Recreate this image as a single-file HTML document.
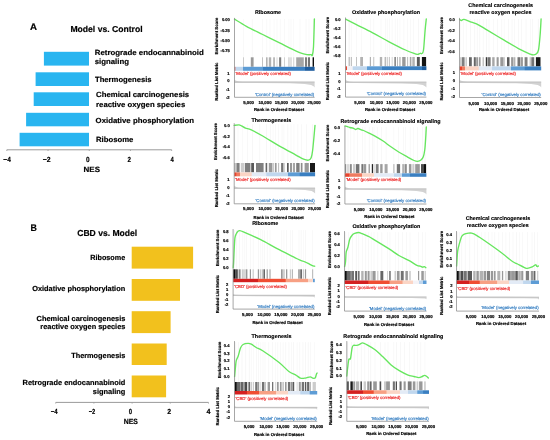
<!DOCTYPE html>
<html><head><meta charset="utf-8"><style>
html,body{margin:0;padding:0;background:#fff;overflow:hidden;}
svg{display:block;}
#wrap{width:550px;height:440px;overflow:hidden;will-change:transform;}
text{font-family:"Liberation Sans", sans-serif;text-rendering:geometricPrecision;}
</style></head><body>
<div id="wrap"><svg width="550" height="440" viewBox="0 0 550 440">
<rect width="550" height="440" fill="#fff"/>
<text x="268.00" y="14.24" text-anchor="middle" font-size="5.4" font-weight="bold" fill="#000" stroke="#000" stroke-width="0.12" >Ribosome</text>
<rect x="243.30" y="18.90" width="0.6" height="38.40" fill="#000" fill-opacity="0.043"/>
<rect x="251.90" y="18.90" width="0.6" height="38.40" fill="#000" fill-opacity="0.047"/>
<rect x="262.10" y="18.90" width="0.6" height="38.40" fill="#000" fill-opacity="0.044"/>
<rect x="266.50" y="18.90" width="0.6" height="38.40" fill="#000" fill-opacity="0.044"/>
<rect x="269.70" y="18.90" width="0.6" height="38.40" fill="#000" fill-opacity="0.044"/>
<rect x="273.75" y="18.90" width="0.6" height="38.40" fill="#000" fill-opacity="0.044"/>
<rect x="276.70" y="18.90" width="0.6" height="38.40" fill="#000" fill-opacity="0.041"/>
<rect x="279.85" y="18.90" width="0.6" height="38.40" fill="#000" fill-opacity="0.050"/>
<rect x="284.25" y="18.90" width="0.6" height="38.40" fill="#000" fill-opacity="0.041"/>
<rect x="288.65" y="18.90" width="0.6" height="38.40" fill="#000" fill-opacity="0.041"/>
<rect x="290.70" y="18.90" width="0.6" height="38.40" fill="#000" fill-opacity="0.041"/>
<rect x="293.45" y="18.90" width="0.6" height="38.40" fill="#000" fill-opacity="0.041"/>
<rect x="299.70" y="18.90" width="0.6" height="38.40" fill="#000" fill-opacity="0.045"/>
<rect x="305.75" y="18.90" width="0.6" height="38.40" fill="#000" fill-opacity="0.050"/>
<rect x="308.70" y="18.90" width="0.6" height="38.40" fill="#000" fill-opacity="0.052"/>
<rect x="313.00" y="18.90" width="0.6" height="38.40" fill="#000" fill-opacity="0.064"/>
<rect x="243.20" y="57.30" width="0.80" height="9.50" fill="#000" fill-opacity="0.25"/>
<rect x="250.80" y="57.30" width="2.80" height="9.50" fill="#000" fill-opacity="0.40"/>
<rect x="262.00" y="57.30" width="0.80" height="9.50" fill="#000" fill-opacity="0.30"/>
<rect x="266.00" y="57.30" width="1.60" height="9.50" fill="#000" fill-opacity="0.30"/>
<rect x="268.80" y="57.30" width="2.40" height="9.50" fill="#000" fill-opacity="0.30"/>
<rect x="273.20" y="57.30" width="1.70" height="9.50" fill="#000" fill-opacity="0.30"/>
<rect x="276.60" y="57.30" width="0.80" height="9.50" fill="#000" fill-opacity="0.20"/>
<rect x="279.10" y="57.30" width="2.10" height="9.50" fill="#000" fill-opacity="0.50"/>
<rect x="284.10" y="57.30" width="0.90" height="9.50" fill="#000" fill-opacity="0.20"/>
<rect x="288.30" y="57.30" width="1.30" height="9.50" fill="#000" fill-opacity="0.20"/>
<rect x="290.40" y="57.30" width="1.20" height="9.50" fill="#000" fill-opacity="0.20"/>
<rect x="293.30" y="57.30" width="0.90" height="9.50" fill="#000" fill-opacity="0.20"/>
<rect x="296.20" y="57.30" width="7.60" height="9.50" fill="#000" fill-opacity="0.35"/>
<rect x="305.00" y="57.30" width="2.10" height="9.50" fill="#000" fill-opacity="0.50"/>
<rect x="308.00" y="57.30" width="2.00" height="9.50" fill="#000" fill-opacity="0.55"/>
<rect x="312.60" y="57.30" width="1.40" height="9.50" fill="#000" fill-opacity="0.95"/>
<defs><linearGradient id="g1" gradientUnits="userSpaceOnUse" x1="234.5" y1="0" x2="314.6" y2="0"><stop offset="0.0000" stop-color="#e8452e"/><stop offset="0.0081" stop-color="#e8452e"/><stop offset="0.0144" stop-color="#c0d7ee"/><stop offset="0.1055" stop-color="#c0d7ee"/><stop offset="0.1117" stop-color="#5d9cd5"/><stop offset="0.3552" stop-color="#5d9cd5"/><stop offset="0.3614" stop-color="#3a7fc1"/><stop offset="0.8770" stop-color="#3a7fc1"/><stop offset="0.8833" stop-color="#1f5d9e"/><stop offset="1.0000" stop-color="#1f5d9e"/></linearGradient></defs>
<rect x="234.50" y="66.80" width="80.10" height="4.00" fill="url(#g1)" />
<path d="M234.50,79.70 L236.00,80.70 L238.50,81.30 L242.50,81.60 L314.60,81.70 L314.60,87.50 L313.60,86.30 L311.10,85.00 L304.60,84.00 L289.60,83.30 L244.50,82.90 L234.50,82.90 Z" fill="#d2d2d2" stroke="none"/>
<line x1="234.50" y1="82.00" x2="314.60" y2="82.00" stroke="#b4b4b4" stroke-width="0.6" />
<path d="M234.50,19.20 C236.48,20.38 241.70,23.75 246.40,26.30 C251.10,28.85 257.25,31.78 262.70,34.50 C268.15,37.22 274.18,40.15 279.10,42.60 C284.02,45.05 288.65,47.48 292.20,49.20 C295.75,50.92 297.95,52.00 300.40,52.90 C302.85,53.80 305.13,54.30 306.90,54.60 C308.67,54.90 310.10,54.60 311.00,54.70 C311.90,54.80 311.88,56.53 312.30,55.20 C312.72,53.87 313.15,52.73 313.50,46.70 C313.85,40.67 314.25,23.62 314.40,19.00" fill="none" stroke="#66e65e" stroke-width="1.35" stroke-linejoin="round" stroke-linecap="round"/>
<line x1="234.50" y1="17.90" x2="234.50" y2="97.30" stroke="#8a8a8a" stroke-width="0.75" />
<line x1="234.50" y1="97.30" x2="314.60" y2="97.30" stroke="#8a8a8a" stroke-width="0.75" />
<text x="229.90" y="21.48" text-anchor="end" font-size="4.1" font-weight="bold" fill="#000" stroke="#000" stroke-width="0.18" >0.00</text>
<text x="229.90" y="31.88" text-anchor="end" font-size="4.1" font-weight="bold" fill="#000" stroke="#000" stroke-width="0.18" >-0.25</text>
<text x="229.90" y="42.18" text-anchor="end" font-size="4.1" font-weight="bold" fill="#000" stroke="#000" stroke-width="0.18" >-0.50</text>
<text x="229.90" y="52.48" text-anchor="end" font-size="4.1" font-weight="bold" fill="#000" stroke="#000" stroke-width="0.18" >-0.75</text>
<text x="229.60" y="74.88" text-anchor="end" font-size="4.1" font-weight="bold" fill="#000" stroke="#000" stroke-width="0.18" >1</text>
<text x="229.60" y="82.48" text-anchor="end" font-size="4.1" font-weight="bold" fill="#000" stroke="#000" stroke-width="0.18" >0</text>
<text x="229.60" y="90.58" text-anchor="end" font-size="4.1" font-weight="bold" fill="#000" stroke="#000" stroke-width="0.18" >-1</text>
<text x="229.60" y="98.68" text-anchor="end" font-size="4.1" font-weight="bold" fill="#000" stroke="#000" stroke-width="0.18" >-2</text>
<text x="235.50" y="75.45" text-anchor="start" font-size="4.3" font-weight="normal" fill="#ee2a2a" stroke="#ee2a2a" stroke-width="0.18" >'Model' (positively correlated)</text>
<text x="314.20" y="95.85" text-anchor="end" font-size="4.3" font-weight="normal" fill="#3b82c4" stroke="#3b82c4" stroke-width="0.18" >'Control' (negatively correlated)</text>
<text x="248.60" y="104.45" text-anchor="middle" font-size="4.3" font-weight="bold" fill="#000" stroke="#000" stroke-width="0.18" >5,000</text>
<text x="264.98" y="104.45" text-anchor="middle" font-size="4.3" font-weight="bold" fill="#000" stroke="#000" stroke-width="0.18" >10,000</text>
<text x="281.36" y="104.45" text-anchor="middle" font-size="4.3" font-weight="bold" fill="#000" stroke="#000" stroke-width="0.18" >15,000</text>
<text x="297.74" y="104.45" text-anchor="middle" font-size="4.3" font-weight="bold" fill="#000" stroke="#000" stroke-width="0.18" >20,000</text>
<text x="314.12" y="104.45" text-anchor="middle" font-size="4.3" font-weight="bold" fill="#000" stroke="#000" stroke-width="0.18" >25,000</text>
<text x="279.00" y="110.85" text-anchor="middle" font-size="4.3" font-weight="bold" fill="#000" stroke="#000" stroke-width="0.18" >Rank in Ordered Dataset</text>
<text transform="translate(217.95,36.10) rotate(-90)" text-anchor="middle" font-size="4.3" font-weight="bold" fill="#000" stroke="#000" stroke-width="0.18">Enrichment Score</text>
<text transform="translate(217.95,81.60) rotate(-90)" text-anchor="middle" font-size="4.3" font-weight="bold" fill="#000" stroke="#000" stroke-width="0.18">Ranked List Metric</text>
<text x="386.00" y="14.24" text-anchor="middle" font-size="5.4" font-weight="bold" fill="#000" stroke="#000" stroke-width="0.12" >Oxidative phosphorylation</text>
<rect x="348.60" y="18.50" width="0.6" height="38.50" fill="#000" fill-opacity="0.044"/>
<rect x="349.50" y="18.50" width="0.6" height="38.50" fill="#000" fill-opacity="0.044"/>
<rect x="351.10" y="18.50" width="0.6" height="38.50" fill="#000" fill-opacity="0.044"/>
<rect x="356.30" y="18.50" width="0.6" height="38.50" fill="#000" fill-opacity="0.044"/>
<rect x="361.30" y="18.50" width="0.6" height="38.50" fill="#000" fill-opacity="0.044"/>
<rect x="370.10" y="18.50" width="0.6" height="38.50" fill="#000" fill-opacity="0.044"/>
<rect x="373.50" y="18.50" width="0.6" height="38.50" fill="#000" fill-opacity="0.044"/>
<rect x="380.70" y="18.50" width="0.6" height="38.50" fill="#000" fill-opacity="0.044"/>
<rect x="384.95" y="18.50" width="0.6" height="38.50" fill="#000" fill-opacity="0.044"/>
<rect x="386.90" y="18.50" width="0.6" height="38.50" fill="#000" fill-opacity="0.044"/>
<rect x="389.00" y="18.50" width="0.6" height="38.50" fill="#000" fill-opacity="0.044"/>
<rect x="391.80" y="18.50" width="0.6" height="38.50" fill="#000" fill-opacity="0.044"/>
<rect x="394.85" y="18.50" width="0.6" height="38.50" fill="#000" fill-opacity="0.049"/>
<rect x="397.30" y="18.50" width="0.6" height="38.50" fill="#000" fill-opacity="0.045"/>
<rect x="399.65" y="18.50" width="0.6" height="38.50" fill="#000" fill-opacity="0.044"/>
<rect x="403.60" y="18.50" width="0.6" height="38.50" fill="#000" fill-opacity="0.047"/>
<rect x="407.35" y="18.50" width="0.6" height="38.50" fill="#000" fill-opacity="0.044"/>
<rect x="410.30" y="18.50" width="0.6" height="38.50" fill="#000" fill-opacity="0.045"/>
<rect x="413.25" y="18.50" width="0.6" height="38.50" fill="#000" fill-opacity="0.044"/>
<rect x="418.05" y="18.50" width="0.6" height="38.50" fill="#000" fill-opacity="0.055"/>
<rect x="423.70" y="18.50" width="0.6" height="38.50" fill="#000" fill-opacity="0.063"/>
<rect x="348.60" y="57.00" width="0.60" height="9.30" fill="#000" fill-opacity="0.30"/>
<rect x="349.40" y="57.00" width="0.80" height="9.30" fill="#000" fill-opacity="0.30"/>
<rect x="351.00" y="57.00" width="0.80" height="9.30" fill="#000" fill-opacity="0.30"/>
<rect x="356.20" y="57.00" width="0.80" height="9.30" fill="#000" fill-opacity="0.30"/>
<rect x="360.20" y="57.00" width="2.80" height="9.30" fill="#000" fill-opacity="0.30"/>
<rect x="369.80" y="57.00" width="1.20" height="9.30" fill="#000" fill-opacity="0.30"/>
<rect x="373.40" y="57.00" width="0.80" height="9.30" fill="#000" fill-opacity="0.30"/>
<rect x="379.80" y="57.00" width="2.40" height="9.30" fill="#000" fill-opacity="0.30"/>
<rect x="384.60" y="57.00" width="1.30" height="9.30" fill="#000" fill-opacity="0.30"/>
<rect x="386.80" y="57.00" width="0.80" height="9.30" fill="#000" fill-opacity="0.30"/>
<rect x="388.90" y="57.00" width="0.80" height="9.30" fill="#000" fill-opacity="0.30"/>
<rect x="391.80" y="57.00" width="0.60" height="9.30" fill="#000" fill-opacity="0.30"/>
<rect x="394.30" y="57.00" width="1.70" height="9.30" fill="#000" fill-opacity="0.45"/>
<rect x="397.20" y="57.00" width="0.80" height="9.30" fill="#000" fill-opacity="0.35"/>
<rect x="399.30" y="57.00" width="1.30" height="9.30" fill="#000" fill-opacity="0.30"/>
<rect x="402.20" y="57.00" width="3.40" height="9.30" fill="#000" fill-opacity="0.40"/>
<rect x="407.20" y="57.00" width="0.90" height="9.30" fill="#000" fill-opacity="0.30"/>
<rect x="409.80" y="57.00" width="1.60" height="9.30" fill="#000" fill-opacity="0.35"/>
<rect x="412.30" y="57.00" width="2.50" height="9.30" fill="#000" fill-opacity="0.30"/>
<rect x="416.90" y="57.00" width="2.90" height="9.30" fill="#000" fill-opacity="0.65"/>
<rect x="421.90" y="57.00" width="4.20" height="9.30" fill="#000" fill-opacity="0.92"/>
<defs><linearGradient id="g2" gradientUnits="userSpaceOnUse" x1="345.5" y1="0" x2="426.4" y2="0"><stop offset="0.0000" stop-color="#e8452e"/><stop offset="0.0155" stop-color="#e8452e"/><stop offset="0.0216" stop-color="#f4f2f6"/><stop offset="0.0847" stop-color="#f4f2f6"/><stop offset="0.0909" stop-color="#c0d7ee"/><stop offset="0.2627" stop-color="#c0d7ee"/><stop offset="0.2689" stop-color="#5d9cd5"/><stop offset="0.4506" stop-color="#5d9cd5"/><stop offset="0.4567" stop-color="#3a7fc1"/><stop offset="0.9413" stop-color="#3a7fc1"/><stop offset="0.9475" stop-color="#1f5d9e"/><stop offset="1.0000" stop-color="#1f5d9e"/></linearGradient></defs>
<rect x="345.50" y="66.30" width="80.90" height="3.80" fill="url(#g2)" />
<path d="M345.50,79.80 L347.00,80.80 L349.50,81.40 L353.50,81.70 L426.40,81.80 L426.40,87.60 L425.40,86.40 L422.90,85.10 L416.40,84.10 L401.40,83.40 L355.50,83.00 L345.50,83.00 Z" fill="#d2d2d2" stroke="none"/>
<line x1="345.50" y1="82.10" x2="426.40" y2="82.10" stroke="#b4b4b4" stroke-width="0.6" />
<path d="M345.60,19.20 C347.40,20.10 351.88,22.33 356.40,24.60 C360.92,26.87 367.25,29.93 372.70,32.80 C378.15,35.67 383.63,38.93 389.10,41.80 C394.57,44.67 401.13,48.00 405.50,50.00 C409.87,52.00 413.27,53.07 415.30,53.80 C417.33,54.53 416.88,54.48 417.70,54.40 C418.52,54.32 419.52,53.43 420.20,53.30 C420.88,53.17 421.25,54.15 421.80,53.60 C422.35,53.05 422.95,53.87 423.50,50.00 C424.05,46.13 424.63,35.58 425.10,30.40 C425.57,25.22 426.10,20.82 426.30,18.90" fill="none" stroke="#66e65e" stroke-width="1.35" stroke-linejoin="round" stroke-linecap="round"/>
<line x1="345.50" y1="17.50" x2="345.50" y2="97.10" stroke="#8a8a8a" stroke-width="0.75" />
<line x1="345.50" y1="97.10" x2="426.40" y2="97.10" stroke="#8a8a8a" stroke-width="0.75" />
<text x="340.60" y="20.78" text-anchor="end" font-size="4.1" font-weight="bold" fill="#000" stroke="#000" stroke-width="0.18" >0.0</text>
<text x="340.60" y="29.58" text-anchor="end" font-size="4.1" font-weight="bold" fill="#000" stroke="#000" stroke-width="0.18" >-0.2</text>
<text x="340.60" y="38.58" text-anchor="end" font-size="4.1" font-weight="bold" fill="#000" stroke="#000" stroke-width="0.18" >-0.4</text>
<text x="340.60" y="47.68" text-anchor="end" font-size="4.1" font-weight="bold" fill="#000" stroke="#000" stroke-width="0.18" >-0.6</text>
<text x="340.60" y="56.78" text-anchor="end" font-size="4.1" font-weight="bold" fill="#000" stroke="#000" stroke-width="0.18" >-0.8</text>
<text x="340.60" y="74.68" text-anchor="end" font-size="4.1" font-weight="bold" fill="#000" stroke="#000" stroke-width="0.18" >1</text>
<text x="340.60" y="82.58" text-anchor="end" font-size="4.1" font-weight="bold" fill="#000" stroke="#000" stroke-width="0.18" >0</text>
<text x="340.60" y="90.38" text-anchor="end" font-size="4.1" font-weight="bold" fill="#000" stroke="#000" stroke-width="0.18" >-1</text>
<text x="340.60" y="97.98" text-anchor="end" font-size="4.1" font-weight="bold" fill="#000" stroke="#000" stroke-width="0.18" >-2</text>
<text x="346.50" y="74.85" text-anchor="start" font-size="4.3" font-weight="normal" fill="#ee2a2a" stroke="#ee2a2a" stroke-width="0.18" >'Model' (positively correlated)</text>
<text x="426.00" y="95.25" text-anchor="end" font-size="4.3" font-weight="normal" fill="#3b82c4" stroke="#3b82c4" stroke-width="0.18" >'Control' (negatively correlated)</text>
<text x="359.74" y="104.15" text-anchor="middle" font-size="4.3" font-weight="bold" fill="#000" stroke="#000" stroke-width="0.18" >5,000</text>
<text x="376.28" y="104.15" text-anchor="middle" font-size="4.3" font-weight="bold" fill="#000" stroke="#000" stroke-width="0.18" >10,000</text>
<text x="392.83" y="104.15" text-anchor="middle" font-size="4.3" font-weight="bold" fill="#000" stroke="#000" stroke-width="0.18" >15,000</text>
<text x="409.37" y="104.15" text-anchor="middle" font-size="4.3" font-weight="bold" fill="#000" stroke="#000" stroke-width="0.18" >20,000</text>
<text x="425.91" y="104.15" text-anchor="middle" font-size="4.3" font-weight="bold" fill="#000" stroke="#000" stroke-width="0.18" >25,000</text>
<text x="390.00" y="111.35" text-anchor="middle" font-size="4.3" font-weight="bold" fill="#000" stroke="#000" stroke-width="0.18" >Rank in Ordered Dataset</text>
<text transform="translate(329.05,35.20) rotate(-90)" text-anchor="middle" font-size="4.3" font-weight="bold" fill="#000" stroke="#000" stroke-width="0.18">Enrichment Score</text>
<text transform="translate(328.55,81.10) rotate(-90)" text-anchor="middle" font-size="4.3" font-weight="bold" fill="#000" stroke="#000" stroke-width="0.18">Ranked List Metric</text>
<text x="500.70" y="6.84" text-anchor="middle" font-size="5.4" font-weight="bold" fill="#000" stroke="#000" stroke-width="0.12" >Chemical carcinogenesis</text>
<text x="500.50" y="14.24" text-anchor="middle" font-size="5.4" font-weight="bold" fill="#000" stroke="#000" stroke-width="0.12" >reactive oxygen species</text>
<rect x="460.50" y="18.90" width="0.6" height="38.30" fill="#000" fill-opacity="0.043"/>
<rect x="462.90" y="18.90" width="0.6" height="38.30" fill="#000" fill-opacity="0.050"/>
<rect x="465.90" y="18.90" width="0.6" height="38.30" fill="#000" fill-opacity="0.041"/>
<rect x="470.10" y="18.90" width="0.6" height="38.30" fill="#000" fill-opacity="0.053"/>
<rect x="474.50" y="18.90" width="0.6" height="38.30" fill="#000" fill-opacity="0.053"/>
<rect x="476.90" y="18.90" width="0.6" height="38.30" fill="#000" fill-opacity="0.047"/>
<rect x="479.50" y="18.90" width="0.6" height="38.30" fill="#000" fill-opacity="0.047"/>
<rect x="482.90" y="18.90" width="0.6" height="38.30" fill="#000" fill-opacity="0.044"/>
<rect x="486.10" y="18.90" width="0.6" height="38.30" fill="#000" fill-opacity="0.059"/>
<rect x="488.70" y="18.90" width="0.6" height="38.30" fill="#000" fill-opacity="0.052"/>
<rect x="493.10" y="18.90" width="0.6" height="38.30" fill="#000" fill-opacity="0.045"/>
<rect x="497.35" y="18.90" width="0.6" height="38.30" fill="#000" fill-opacity="0.047"/>
<rect x="501.50" y="18.90" width="0.6" height="38.30" fill="#000" fill-opacity="0.047"/>
<rect x="503.85" y="18.90" width="0.6" height="38.30" fill="#000" fill-opacity="0.041"/>
<rect x="507.95" y="18.90" width="0.6" height="38.30" fill="#000" fill-opacity="0.055"/>
<rect x="511.75" y="18.90" width="0.6" height="38.30" fill="#000" fill-opacity="0.049"/>
<rect x="514.05" y="18.90" width="0.6" height="38.30" fill="#000" fill-opacity="0.044"/>
<rect x="518.45" y="18.90" width="0.6" height="38.30" fill="#000" fill-opacity="0.052"/>
<rect x="521.35" y="18.90" width="0.6" height="38.30" fill="#000" fill-opacity="0.047"/>
<rect x="525.75" y="18.90" width="0.6" height="38.30" fill="#000" fill-opacity="0.050"/>
<rect x="529.95" y="18.90" width="0.6" height="38.30" fill="#000" fill-opacity="0.043"/>
<rect x="532.45" y="18.90" width="0.6" height="38.30" fill="#000" fill-opacity="0.052"/>
<rect x="537.90" y="18.90" width="0.6" height="38.30" fill="#000" fill-opacity="0.062"/>
<rect x="460.20" y="57.20" width="1.20" height="9.20" fill="#000" fill-opacity="0.25"/>
<rect x="461.80" y="57.20" width="2.80" height="9.20" fill="#000" fill-opacity="0.50"/>
<rect x="465.40" y="57.20" width="1.60" height="9.20" fill="#000" fill-opacity="0.20"/>
<rect x="469.00" y="57.20" width="2.80" height="9.20" fill="#000" fill-opacity="0.60"/>
<rect x="473.80" y="57.20" width="2.00" height="9.20" fill="#000" fill-opacity="0.60"/>
<rect x="476.20" y="57.20" width="2.00" height="9.20" fill="#000" fill-opacity="0.40"/>
<rect x="479.00" y="57.20" width="1.60" height="9.20" fill="#000" fill-opacity="0.40"/>
<rect x="482.60" y="57.20" width="1.20" height="9.20" fill="#000" fill-opacity="0.30"/>
<rect x="485.80" y="57.20" width="1.20" height="9.20" fill="#000" fill-opacity="0.80"/>
<rect x="487.40" y="57.20" width="3.20" height="9.20" fill="#000" fill-opacity="0.55"/>
<rect x="492.20" y="57.20" width="2.40" height="9.20" fill="#000" fill-opacity="0.35"/>
<rect x="496.60" y="57.20" width="2.10" height="9.20" fill="#000" fill-opacity="0.40"/>
<rect x="500.30" y="57.20" width="3.00" height="9.20" fill="#000" fill-opacity="0.40"/>
<rect x="503.30" y="57.20" width="1.70" height="9.20" fill="#000" fill-opacity="0.20"/>
<rect x="507.00" y="57.20" width="2.50" height="9.20" fill="#000" fill-opacity="0.65"/>
<rect x="511.20" y="57.20" width="1.70" height="9.20" fill="#000" fill-opacity="0.45"/>
<rect x="513.30" y="57.20" width="2.10" height="9.20" fill="#000" fill-opacity="0.30"/>
<rect x="517.50" y="57.20" width="2.50" height="9.20" fill="#000" fill-opacity="0.55"/>
<rect x="520.40" y="57.20" width="2.50" height="9.20" fill="#000" fill-opacity="0.40"/>
<rect x="524.60" y="57.20" width="2.90" height="9.20" fill="#000" fill-opacity="0.50"/>
<rect x="529.60" y="57.20" width="1.30" height="9.20" fill="#000" fill-opacity="0.25"/>
<rect x="531.30" y="57.20" width="2.90" height="9.20" fill="#000" fill-opacity="0.55"/>
<rect x="535.90" y="57.20" width="4.60" height="9.20" fill="#000" fill-opacity="0.90"/>
<defs><linearGradient id="g3" gradientUnits="userSpaceOnUse" x1="459.5" y1="0" x2="541.2" y2="0"><stop offset="0.0000" stop-color="#e8452e"/><stop offset="0.0251" stop-color="#e8452e"/><stop offset="0.0312" stop-color="#ef7b60"/><stop offset="0.0643" stop-color="#ef7b60"/><stop offset="0.0704" stop-color="#fbd5c5"/><stop offset="0.2307" stop-color="#fbd5c5"/><stop offset="0.2368" stop-color="#e3ebf6"/><stop offset="0.3972" stop-color="#e3ebf6"/><stop offset="0.4033" stop-color="#c0d7ee"/><stop offset="0.6297" stop-color="#c0d7ee"/><stop offset="0.6359" stop-color="#5d9cd5"/><stop offset="0.7938" stop-color="#5d9cd5"/><stop offset="0.7999" stop-color="#3a7fc1"/><stop offset="1.0000" stop-color="#3a7fc1"/></linearGradient></defs>
<rect x="459.50" y="66.40" width="81.70" height="4.00" fill="url(#g3)" />
<path d="M459.50,79.70 L461.00,80.70 L463.50,81.30 L467.50,81.60 L541.20,81.70 L541.20,87.50 L540.20,86.30 L537.70,85.00 L531.20,84.00 L516.20,83.30 L469.50,82.90 L459.50,82.90 Z" fill="#d2d2d2" stroke="none"/>
<line x1="459.50" y1="82.00" x2="541.20" y2="82.00" stroke="#b4b4b4" stroke-width="0.6" />
<path d="M459.60,19.40 C459.92,19.58 460.77,20.50 461.50,20.50 C462.23,20.50 462.35,19.12 464.00,19.40 C465.65,19.68 469.08,21.33 471.40,22.20 C473.72,23.07 475.18,23.23 477.90,24.60 C480.62,25.97 483.33,27.80 487.70,30.40 C492.07,33.00 498.63,36.98 504.10,40.20 C509.57,43.42 516.13,47.38 520.50,49.70 C524.87,52.02 528.13,53.23 530.30,54.10 C532.47,54.97 532.55,54.90 533.50,54.90 C534.45,54.90 535.17,54.92 536.00,54.10 C536.83,53.28 537.82,53.13 538.50,50.00 C539.18,46.87 539.67,40.48 540.10,35.30 C540.53,30.12 540.93,21.63 541.10,18.90" fill="none" stroke="#66e65e" stroke-width="1.35" stroke-linejoin="round" stroke-linecap="round"/>
<line x1="459.50" y1="17.90" x2="459.50" y2="97.50" stroke="#8a8a8a" stroke-width="0.75" />
<line x1="459.50" y1="97.50" x2="541.20" y2="97.50" stroke="#8a8a8a" stroke-width="0.75" />
<text x="454.90" y="21.28" text-anchor="end" font-size="4.1" font-weight="bold" fill="#000" stroke="#000" stroke-width="0.18" >0.0</text>
<text x="454.90" y="31.88" text-anchor="end" font-size="4.1" font-weight="bold" fill="#000" stroke="#000" stroke-width="0.18" >-0.2</text>
<text x="454.90" y="42.28" text-anchor="end" font-size="4.1" font-weight="bold" fill="#000" stroke="#000" stroke-width="0.18" >-0.4</text>
<text x="454.90" y="52.58" text-anchor="end" font-size="4.1" font-weight="bold" fill="#000" stroke="#000" stroke-width="0.18" >-0.6</text>
<text x="455.00" y="74.48" text-anchor="end" font-size="4.1" font-weight="bold" fill="#000" stroke="#000" stroke-width="0.18" >1</text>
<text x="455.00" y="82.48" text-anchor="end" font-size="4.1" font-weight="bold" fill="#000" stroke="#000" stroke-width="0.18" >0</text>
<text x="455.00" y="90.48" text-anchor="end" font-size="4.1" font-weight="bold" fill="#000" stroke="#000" stroke-width="0.18" >-1</text>
<text x="455.00" y="98.28" text-anchor="end" font-size="4.1" font-weight="bold" fill="#000" stroke="#000" stroke-width="0.18" >-2</text>
<text x="460.50" y="74.95" text-anchor="start" font-size="4.3" font-weight="normal" fill="#ee2a2a" stroke="#ee2a2a" stroke-width="0.18" >'Model' (positively correlated)</text>
<text x="540.80" y="95.95" text-anchor="end" font-size="4.3" font-weight="normal" fill="#3b82c4" stroke="#3b82c4" stroke-width="0.18" >'Control' (negatively correlated)</text>
<text x="473.88" y="104.75" text-anchor="middle" font-size="4.3" font-weight="bold" fill="#000" stroke="#000" stroke-width="0.18" >5,000</text>
<text x="490.59" y="104.75" text-anchor="middle" font-size="4.3" font-weight="bold" fill="#000" stroke="#000" stroke-width="0.18" >10,000</text>
<text x="507.29" y="104.75" text-anchor="middle" font-size="4.3" font-weight="bold" fill="#000" stroke="#000" stroke-width="0.18" >15,000</text>
<text x="524.00" y="104.75" text-anchor="middle" font-size="4.3" font-weight="bold" fill="#000" stroke="#000" stroke-width="0.18" >20,000</text>
<text x="540.71" y="104.75" text-anchor="middle" font-size="4.3" font-weight="bold" fill="#000" stroke="#000" stroke-width="0.18" >25,000</text>
<text x="504.00" y="111.35" text-anchor="middle" font-size="4.3" font-weight="bold" fill="#000" stroke="#000" stroke-width="0.18" >Rank in Ordered Dataset</text>
<text transform="translate(443.35,35.50) rotate(-90)" text-anchor="middle" font-size="4.3" font-weight="bold" fill="#000" stroke="#000" stroke-width="0.18">Enrichment Score</text>
<text transform="translate(442.85,81.50) rotate(-90)" text-anchor="middle" font-size="4.3" font-weight="bold" fill="#000" stroke="#000" stroke-width="0.18">Ranked List Metric</text>
<text x="271.30" y="122.44" text-anchor="middle" font-size="5.4" font-weight="bold" fill="#000" stroke="#000" stroke-width="0.12" >Thermogenesis</text>
<rect x="234.65" y="124.20" width="0.6" height="38.80" fill="#000" fill-opacity="0.045"/>
<rect x="237.70" y="124.20" width="0.6" height="38.80" fill="#000" fill-opacity="0.050"/>
<rect x="242.10" y="124.20" width="0.6" height="38.80" fill="#000" fill-opacity="0.041"/>
<rect x="247.30" y="124.20" width="0.6" height="38.80" fill="#000" fill-opacity="0.050"/>
<rect x="252.30" y="124.20" width="0.6" height="38.80" fill="#000" fill-opacity="0.055"/>
<rect x="259.50" y="124.20" width="0.6" height="38.80" fill="#000" fill-opacity="0.050"/>
<rect x="266.10" y="124.20" width="0.6" height="38.80" fill="#000" fill-opacity="0.053"/>
<rect x="270.10" y="124.20" width="0.6" height="38.80" fill="#000" fill-opacity="0.047"/>
<rect x="272.75" y="124.20" width="0.6" height="38.80" fill="#000" fill-opacity="0.044"/>
<rect x="275.45" y="124.20" width="0.6" height="38.80" fill="#000" fill-opacity="0.047"/>
<rect x="278.40" y="124.20" width="0.6" height="38.80" fill="#000" fill-opacity="0.045"/>
<rect x="281.75" y="124.20" width="0.6" height="38.80" fill="#000" fill-opacity="0.053"/>
<rect x="283.60" y="124.20" width="0.6" height="38.80" fill="#000" fill-opacity="0.045"/>
<rect x="287.55" y="124.20" width="0.6" height="38.80" fill="#000" fill-opacity="0.055"/>
<rect x="290.70" y="124.20" width="0.6" height="38.80" fill="#000" fill-opacity="0.047"/>
<rect x="293.65" y="124.20" width="0.6" height="38.80" fill="#000" fill-opacity="0.045"/>
<rect x="297.60" y="124.20" width="0.6" height="38.80" fill="#000" fill-opacity="0.050"/>
<rect x="301.35" y="124.20" width="0.6" height="38.80" fill="#000" fill-opacity="0.049"/>
<rect x="306.40" y="124.20" width="0.6" height="38.80" fill="#000" fill-opacity="0.047"/>
<rect x="312.20" y="124.20" width="0.6" height="38.80" fill="#000" fill-opacity="0.062"/>
<rect x="234.30" y="163.00" width="1.30" height="9.40" fill="#000" fill-opacity="0.35"/>
<rect x="236.40" y="163.00" width="3.20" height="9.40" fill="#000" fill-opacity="0.50"/>
<rect x="240.80" y="163.00" width="3.20" height="9.40" fill="#000" fill-opacity="0.20"/>
<rect x="244.80" y="163.00" width="5.60" height="9.40" fill="#000" fill-opacity="0.50"/>
<rect x="251.20" y="163.00" width="2.80" height="9.40" fill="#000" fill-opacity="0.65"/>
<rect x="256.00" y="163.00" width="7.60" height="9.40" fill="#000" fill-opacity="0.50"/>
<rect x="265.60" y="163.00" width="1.60" height="9.40" fill="#000" fill-opacity="0.60"/>
<rect x="268.80" y="163.00" width="3.20" height="9.40" fill="#000" fill-opacity="0.40"/>
<rect x="272.40" y="163.00" width="1.30" height="9.40" fill="#000" fill-opacity="0.30"/>
<rect x="274.90" y="163.00" width="1.70" height="9.40" fill="#000" fill-opacity="0.40"/>
<rect x="278.30" y="163.00" width="0.80" height="9.40" fill="#000" fill-opacity="0.35"/>
<rect x="281.20" y="163.00" width="1.70" height="9.40" fill="#000" fill-opacity="0.60"/>
<rect x="283.30" y="163.00" width="1.20" height="9.40" fill="#000" fill-opacity="0.35"/>
<rect x="287.00" y="163.00" width="1.70" height="9.40" fill="#000" fill-opacity="0.65"/>
<rect x="290.00" y="163.00" width="2.00" height="9.40" fill="#000" fill-opacity="0.40"/>
<rect x="292.90" y="163.00" width="2.10" height="9.40" fill="#000" fill-opacity="0.35"/>
<rect x="296.20" y="163.00" width="3.40" height="9.40" fill="#000" fill-opacity="0.50"/>
<rect x="300.80" y="163.00" width="1.70" height="9.40" fill="#000" fill-opacity="0.45"/>
<rect x="304.60" y="163.00" width="4.20" height="9.40" fill="#000" fill-opacity="0.40"/>
<rect x="310.00" y="163.00" width="5.00" height="9.40" fill="#000" fill-opacity="0.90"/>
<defs><linearGradient id="g4" gradientUnits="userSpaceOnUse" x1="234.2" y1="0" x2="315.1" y2="0"><stop offset="0.0000" stop-color="#e8452e"/><stop offset="0.0241" stop-color="#e8452e"/><stop offset="0.0303" stop-color="#ef7b60"/><stop offset="0.0686" stop-color="#ef7b60"/><stop offset="0.0748" stop-color="#fbd5c5"/><stop offset="0.2120" stop-color="#fbd5c5"/><stop offset="0.2182" stop-color="#e3ebf6"/><stop offset="0.3949" stop-color="#e3ebf6"/><stop offset="0.4011" stop-color="#c0d7ee"/><stop offset="0.6607" stop-color="#c0d7ee"/><stop offset="0.6669" stop-color="#5d9cd5"/><stop offset="0.8053" stop-color="#5d9cd5"/><stop offset="0.8115" stop-color="#3a7fc1"/><stop offset="1.0000" stop-color="#3a7fc1"/></linearGradient></defs>
<rect x="234.20" y="172.40" width="80.90" height="3.90" fill="url(#g4)" />
<path d="M234.20,185.80 L235.70,186.80 L238.20,187.40 L242.20,187.70 L315.10,187.80 L315.10,193.60 L314.10,192.40 L311.60,191.10 L305.10,190.10 L290.10,189.40 L244.20,189.00 L234.20,189.00 Z" fill="#d2d2d2" stroke="none"/>
<line x1="234.20" y1="188.10" x2="315.10" y2="188.10" stroke="#b4b4b4" stroke-width="0.6" />
<path d="M234.20,125.40 C235.00,125.32 237.78,124.82 239.00,124.90 C240.22,124.98 240.42,125.37 241.50,125.90 C242.58,126.43 243.87,127.45 245.50,128.10 C247.13,128.75 248.43,128.48 251.30,129.80 C254.17,131.12 258.07,133.33 262.70,136.00 C267.33,138.67 273.63,142.67 279.10,145.80 C284.57,148.93 291.42,152.57 295.50,154.80 C299.58,157.03 301.43,158.30 303.60,159.20 C305.77,160.10 307.27,160.38 308.50,160.20 C309.73,160.02 310.32,159.68 311.00,158.10 C311.68,156.52 311.93,156.15 312.60,150.70 C313.27,145.25 314.60,129.62 315.00,125.40" fill="none" stroke="#66e65e" stroke-width="1.35" stroke-linejoin="round" stroke-linecap="round"/>
<line x1="234.20" y1="123.20" x2="234.20" y2="203.80" stroke="#8a8a8a" stroke-width="0.75" />
<line x1="234.20" y1="203.80" x2="315.10" y2="203.80" stroke="#8a8a8a" stroke-width="0.75" />
<text x="229.70" y="126.98" text-anchor="end" font-size="4.1" font-weight="bold" fill="#000" stroke="#000" stroke-width="0.18" >0.0</text>
<text x="229.70" y="137.58" text-anchor="end" font-size="4.1" font-weight="bold" fill="#000" stroke="#000" stroke-width="0.18" >-0.2</text>
<text x="229.70" y="148.18" text-anchor="end" font-size="4.1" font-weight="bold" fill="#000" stroke="#000" stroke-width="0.18" >-0.4</text>
<text x="229.70" y="158.68" text-anchor="end" font-size="4.1" font-weight="bold" fill="#000" stroke="#000" stroke-width="0.18" >-0.6</text>
<text x="229.60" y="180.78" text-anchor="end" font-size="4.1" font-weight="bold" fill="#000" stroke="#000" stroke-width="0.18" >1</text>
<text x="229.60" y="188.58" text-anchor="end" font-size="4.1" font-weight="bold" fill="#000" stroke="#000" stroke-width="0.18" >0</text>
<text x="229.60" y="196.78" text-anchor="end" font-size="4.1" font-weight="bold" fill="#000" stroke="#000" stroke-width="0.18" >-1</text>
<text x="229.60" y="204.98" text-anchor="end" font-size="4.1" font-weight="bold" fill="#000" stroke="#000" stroke-width="0.18" >-2</text>
<text x="235.20" y="180.65" text-anchor="start" font-size="4.3" font-weight="normal" fill="#ee2a2a" stroke="#ee2a2a" stroke-width="0.18" >'Model' (positively correlated)</text>
<text x="314.70" y="202.05" text-anchor="end" font-size="4.3" font-weight="normal" fill="#3b82c4" stroke="#3b82c4" stroke-width="0.18" >'Control' (negatively correlated)</text>
<text x="248.44" y="209.95" text-anchor="middle" font-size="4.3" font-weight="bold" fill="#000" stroke="#000" stroke-width="0.18" >5,000</text>
<text x="264.98" y="209.95" text-anchor="middle" font-size="4.3" font-weight="bold" fill="#000" stroke="#000" stroke-width="0.18" >10,000</text>
<text x="281.53" y="209.95" text-anchor="middle" font-size="4.3" font-weight="bold" fill="#000" stroke="#000" stroke-width="0.18" >15,000</text>
<text x="298.07" y="209.95" text-anchor="middle" font-size="4.3" font-weight="bold" fill="#000" stroke="#000" stroke-width="0.18" >20,000</text>
<text x="314.61" y="209.95" text-anchor="middle" font-size="4.3" font-weight="bold" fill="#000" stroke="#000" stroke-width="0.18" >25,000</text>
<text x="278.70" y="218.65" text-anchor="middle" font-size="4.3" font-weight="bold" fill="#000" stroke="#000" stroke-width="0.18" >Rank in Ordered Dataset</text>
<text transform="translate(217.35,141.60) rotate(-90)" text-anchor="middle" font-size="4.3" font-weight="bold" fill="#000" stroke="#000" stroke-width="0.18">Enrichment Score</text>
<text transform="translate(217.55,188.20) rotate(-90)" text-anchor="middle" font-size="4.3" font-weight="bold" fill="#000" stroke="#000" stroke-width="0.18">Ranked List Metric</text>
<text x="390.50" y="122.74" text-anchor="middle" font-size="5.4" font-weight="bold" fill="#000" stroke="#000" stroke-width="0.12" >Retrograde endocannabinoid signaling</text>
<rect x="345.30" y="126.90" width="0.6" height="37.20" fill="#000" fill-opacity="0.049"/>
<rect x="347.70" y="126.90" width="0.6" height="37.20" fill="#000" fill-opacity="0.043"/>
<rect x="350.50" y="126.90" width="0.6" height="37.20" fill="#000" fill-opacity="0.049"/>
<rect x="353.70" y="126.90" width="0.6" height="37.20" fill="#000" fill-opacity="0.041"/>
<rect x="357.30" y="126.90" width="0.6" height="37.20" fill="#000" fill-opacity="0.052"/>
<rect x="362.10" y="126.90" width="0.6" height="37.20" fill="#000" fill-opacity="0.052"/>
<rect x="364.70" y="126.90" width="0.6" height="37.20" fill="#000" fill-opacity="0.047"/>
<rect x="368.90" y="126.90" width="0.6" height="37.20" fill="#000" fill-opacity="0.049"/>
<rect x="372.10" y="126.90" width="0.6" height="37.20" fill="#000" fill-opacity="0.060"/>
<rect x="373.70" y="126.90" width="0.6" height="37.20" fill="#000" fill-opacity="0.041"/>
<rect x="376.90" y="126.90" width="0.6" height="37.20" fill="#000" fill-opacity="0.050"/>
<rect x="381.10" y="126.90" width="0.6" height="37.20" fill="#000" fill-opacity="0.047"/>
<rect x="385.80" y="126.90" width="0.6" height="37.20" fill="#000" fill-opacity="0.045"/>
<rect x="393.55" y="126.90" width="0.6" height="37.20" fill="#000" fill-opacity="0.041"/>
<rect x="398.15" y="126.90" width="0.6" height="37.20" fill="#000" fill-opacity="0.052"/>
<rect x="402.95" y="126.90" width="0.6" height="37.20" fill="#000" fill-opacity="0.044"/>
<rect x="405.45" y="126.90" width="0.6" height="37.20" fill="#000" fill-opacity="0.049"/>
<rect x="409.85" y="126.90" width="0.6" height="37.20" fill="#000" fill-opacity="0.047"/>
<rect x="413.05" y="126.90" width="0.6" height="37.20" fill="#000" fill-opacity="0.041"/>
<rect x="417.20" y="126.90" width="0.6" height="37.20" fill="#000" fill-opacity="0.047"/>
<rect x="422.20" y="126.90" width="0.6" height="37.20" fill="#000" fill-opacity="0.056"/>
<rect x="424.75" y="126.90" width="0.6" height="37.20" fill="#000" fill-opacity="0.064"/>
<rect x="345.00" y="164.10" width="1.20" height="9.20" fill="#000" fill-opacity="0.45"/>
<rect x="347.40" y="164.10" width="1.20" height="9.20" fill="#000" fill-opacity="0.25"/>
<rect x="349.80" y="164.10" width="2.00" height="9.20" fill="#000" fill-opacity="0.45"/>
<rect x="353.00" y="164.10" width="2.00" height="9.20" fill="#000" fill-opacity="0.20"/>
<rect x="355.80" y="164.10" width="3.60" height="9.20" fill="#000" fill-opacity="0.55"/>
<rect x="361.40" y="164.10" width="2.00" height="9.20" fill="#000" fill-opacity="0.55"/>
<rect x="363.80" y="164.10" width="2.40" height="9.20" fill="#000" fill-opacity="0.40"/>
<rect x="368.60" y="164.10" width="1.20" height="9.20" fill="#000" fill-opacity="0.45"/>
<rect x="371.80" y="164.10" width="1.20" height="9.20" fill="#000" fill-opacity="0.85"/>
<rect x="373.40" y="164.10" width="1.20" height="9.20" fill="#000" fill-opacity="0.20"/>
<rect x="375.80" y="164.10" width="2.80" height="9.20" fill="#000" fill-opacity="0.50"/>
<rect x="380.20" y="164.10" width="2.40" height="9.20" fill="#000" fill-opacity="0.40"/>
<rect x="384.60" y="164.10" width="3.00" height="9.20" fill="#000" fill-opacity="0.35"/>
<rect x="393.00" y="164.10" width="1.70" height="9.20" fill="#000" fill-opacity="0.20"/>
<rect x="396.80" y="164.10" width="3.30" height="9.20" fill="#000" fill-opacity="0.55"/>
<rect x="402.20" y="164.10" width="2.10" height="9.20" fill="#000" fill-opacity="0.30"/>
<rect x="404.70" y="164.10" width="2.10" height="9.20" fill="#000" fill-opacity="0.45"/>
<rect x="408.90" y="164.10" width="2.50" height="9.20" fill="#000" fill-opacity="0.40"/>
<rect x="412.30" y="164.10" width="2.10" height="9.20" fill="#000" fill-opacity="0.20"/>
<rect x="415.20" y="164.10" width="4.60" height="9.20" fill="#000" fill-opacity="0.40"/>
<rect x="421.00" y="164.10" width="3.00" height="9.20" fill="#000" fill-opacity="0.70"/>
<rect x="424.00" y="164.10" width="2.10" height="9.20" fill="#000" fill-opacity="0.95"/>
<defs><linearGradient id="g5" gradientUnits="userSpaceOnUse" x1="344.9" y1="0" x2="426.4" y2="0"><stop offset="0.0000" stop-color="#e8452e"/><stop offset="0.0521" stop-color="#e8452e"/><stop offset="0.0583" stop-color="#ef7b60"/><stop offset="0.2043" stop-color="#ef7b60"/><stop offset="0.2104" stop-color="#fbd5c5"/><stop offset="0.3564" stop-color="#fbd5c5"/><stop offset="0.3626" stop-color="#e3ebf6"/><stop offset="0.5982" stop-color="#e3ebf6"/><stop offset="0.6043" stop-color="#c0d7ee"/><stop offset="0.6951" stop-color="#c0d7ee"/><stop offset="0.7012" stop-color="#5d9cd5"/><stop offset="0.7933" stop-color="#5d9cd5"/><stop offset="0.7994" stop-color="#3a7fc1"/><stop offset="1.0000" stop-color="#3a7fc1"/></linearGradient></defs>
<rect x="344.90" y="173.30" width="81.50" height="3.50" fill="url(#g5)" />
<path d="M344.90,186.60 L346.40,187.60 L348.90,188.20 L352.90,188.50 L426.40,188.60 L426.40,194.40 L425.40,193.20 L422.90,191.90 L416.40,190.90 L401.40,190.20 L354.90,189.80 L344.90,189.80 Z" fill="#d2d2d2" stroke="none"/>
<line x1="344.90" y1="188.90" x2="426.40" y2="188.90" stroke="#b4b4b4" stroke-width="0.6" />
<path d="M345.00,126.00 C345.42,126.10 346.70,126.35 347.50,126.60 C348.30,126.85 348.87,127.25 349.80,127.50 C350.73,127.75 352.15,127.77 353.10,128.10 C354.05,128.43 354.68,129.43 355.50,129.50 C356.32,129.57 357.03,128.45 358.00,128.50 C358.97,128.55 360.37,129.47 361.30,129.80 C362.23,130.13 362.40,130.00 363.60,130.50 C364.80,131.00 366.68,131.90 368.50,132.80 C370.32,133.70 372.13,134.57 374.50,135.90 C376.87,137.23 379.97,138.98 382.70,140.80 C385.43,142.62 388.17,144.88 390.90,146.80 C393.63,148.72 396.37,150.62 399.10,152.30 C401.83,153.98 404.80,155.53 407.30,156.90 C409.80,158.27 412.38,159.77 414.10,160.50 C415.82,161.23 416.45,161.38 417.60,161.30 C418.75,161.22 420.05,160.75 421.00,160.00 C421.95,159.25 422.67,158.55 423.30,156.80 C423.93,155.05 424.40,152.63 424.80,149.50 C425.20,146.37 425.45,141.75 425.70,138.00 C425.95,134.25 426.20,128.83 426.30,127.00" fill="none" stroke="#66e65e" stroke-width="1.35" stroke-linejoin="round" stroke-linecap="round"/>
<line x1="344.90" y1="125.90" x2="344.90" y2="204.00" stroke="#8a8a8a" stroke-width="0.75" />
<line x1="344.90" y1="204.00" x2="426.40" y2="204.00" stroke="#8a8a8a" stroke-width="0.75" />
<text x="340.00" y="128.78" text-anchor="end" font-size="4.1" font-weight="bold" fill="#000" stroke="#000" stroke-width="0.18" >0.0</text>
<text x="340.00" y="141.68" text-anchor="end" font-size="4.1" font-weight="bold" fill="#000" stroke="#000" stroke-width="0.18" >-0.2</text>
<text x="340.00" y="154.68" text-anchor="end" font-size="4.1" font-weight="bold" fill="#000" stroke="#000" stroke-width="0.18" >-0.4</text>
<text x="340.40" y="181.78" text-anchor="end" font-size="4.1" font-weight="bold" fill="#000" stroke="#000" stroke-width="0.18" >1</text>
<text x="340.40" y="189.38" text-anchor="end" font-size="4.1" font-weight="bold" fill="#000" stroke="#000" stroke-width="0.18" >0</text>
<text x="340.40" y="197.58" text-anchor="end" font-size="4.1" font-weight="bold" fill="#000" stroke="#000" stroke-width="0.18" >-1</text>
<text x="340.40" y="205.38" text-anchor="end" font-size="4.1" font-weight="bold" fill="#000" stroke="#000" stroke-width="0.18" >-2</text>
<text x="345.90" y="181.25" text-anchor="start" font-size="4.3" font-weight="normal" fill="#ee2a2a" stroke="#ee2a2a" stroke-width="0.18" >'Model' (positively correlated)</text>
<text x="426.00" y="202.05" text-anchor="end" font-size="4.3" font-weight="normal" fill="#3b82c4" stroke="#3b82c4" stroke-width="0.18" >'Control' (negatively correlated)</text>
<text x="359.24" y="210.55" text-anchor="middle" font-size="4.3" font-weight="bold" fill="#000" stroke="#000" stroke-width="0.18" >5,000</text>
<text x="375.91" y="210.55" text-anchor="middle" font-size="4.3" font-weight="bold" fill="#000" stroke="#000" stroke-width="0.18" >10,000</text>
<text x="392.58" y="210.55" text-anchor="middle" font-size="4.3" font-weight="bold" fill="#000" stroke="#000" stroke-width="0.18" >15,000</text>
<text x="409.24" y="210.55" text-anchor="middle" font-size="4.3" font-weight="bold" fill="#000" stroke="#000" stroke-width="0.18" >20,000</text>
<text x="425.91" y="210.55" text-anchor="middle" font-size="4.3" font-weight="bold" fill="#000" stroke="#000" stroke-width="0.18" >25,000</text>
<text x="389.40" y="217.95" text-anchor="middle" font-size="4.3" font-weight="bold" fill="#000" stroke="#000" stroke-width="0.18" >Rank in Ordered Dataset</text>
<text transform="translate(328.55,143.00) rotate(-90)" text-anchor="middle" font-size="4.3" font-weight="bold" fill="#000" stroke="#000" stroke-width="0.18">Enrichment Score</text>
<text transform="translate(328.55,189.20) rotate(-90)" text-anchor="middle" font-size="4.3" font-weight="bold" fill="#000" stroke="#000" stroke-width="0.18">Ranked List Metric</text>
<text x="265.20" y="224.94" text-anchor="middle" font-size="5.4" font-weight="bold" fill="#000" stroke="#000" stroke-width="0.12" >Ribosome</text>
<rect x="234.00" y="230.10" width="0.6" height="39.20" fill="#000" fill-opacity="0.064"/>
<rect x="236.30" y="230.10" width="0.6" height="39.20" fill="#000" fill-opacity="0.056"/>
<rect x="239.30" y="230.10" width="0.6" height="39.20" fill="#000" fill-opacity="0.049"/>
<rect x="242.50" y="230.10" width="0.6" height="39.20" fill="#000" fill-opacity="0.041"/>
<rect x="244.50" y="230.10" width="0.6" height="39.20" fill="#000" fill-opacity="0.041"/>
<rect x="246.30" y="230.10" width="0.6" height="39.20" fill="#000" fill-opacity="0.047"/>
<rect x="250.10" y="230.10" width="0.6" height="39.20" fill="#000" fill-opacity="0.047"/>
<rect x="252.90" y="230.10" width="0.6" height="39.20" fill="#000" fill-opacity="0.041"/>
<rect x="258.10" y="230.10" width="0.6" height="39.20" fill="#000" fill-opacity="0.047"/>
<rect x="260.10" y="230.10" width="0.6" height="39.20" fill="#000" fill-opacity="0.041"/>
<rect x="261.90" y="230.10" width="0.6" height="39.20" fill="#000" fill-opacity="0.047"/>
<rect x="263.90" y="230.10" width="0.6" height="39.20" fill="#000" fill-opacity="0.053"/>
<rect x="266.90" y="230.10" width="0.6" height="39.20" fill="#000" fill-opacity="0.047"/>
<rect x="269.70" y="230.10" width="0.6" height="39.20" fill="#000" fill-opacity="0.045"/>
<rect x="281.55" y="230.10" width="0.6" height="39.20" fill="#000" fill-opacity="0.047"/>
<rect x="283.65" y="230.10" width="0.6" height="39.20" fill="#000" fill-opacity="0.041"/>
<rect x="286.35" y="230.10" width="0.6" height="39.20" fill="#000" fill-opacity="0.047"/>
<rect x="290.15" y="230.10" width="0.6" height="39.20" fill="#000" fill-opacity="0.041"/>
<rect x="292.00" y="230.10" width="0.6" height="39.20" fill="#000" fill-opacity="0.047"/>
<rect x="298.70" y="230.10" width="0.6" height="39.20" fill="#000" fill-opacity="0.047"/>
<rect x="300.80" y="230.10" width="0.6" height="39.20" fill="#000" fill-opacity="0.055"/>
<rect x="303.10" y="230.10" width="0.6" height="39.20" fill="#000" fill-opacity="0.041"/>
<rect x="305.20" y="230.10" width="0.6" height="39.20" fill="#000" fill-opacity="0.047"/>
<rect x="312.30" y="230.10" width="0.6" height="39.20" fill="#000" fill-opacity="0.043"/>
<rect x="233.20" y="269.30" width="2.20" height="9.50" fill="#000" fill-opacity="0.95"/>
<rect x="235.40" y="269.30" width="2.40" height="9.50" fill="#000" fill-opacity="0.70"/>
<rect x="238.60" y="269.30" width="2.00" height="9.50" fill="#000" fill-opacity="0.45"/>
<rect x="241.80" y="269.30" width="2.00" height="9.50" fill="#000" fill-opacity="0.20"/>
<rect x="244.20" y="269.30" width="1.20" height="9.50" fill="#000" fill-opacity="0.20"/>
<rect x="245.80" y="269.30" width="1.60" height="9.50" fill="#000" fill-opacity="0.40"/>
<rect x="249.80" y="269.30" width="1.20" height="9.50" fill="#000" fill-opacity="0.40"/>
<rect x="252.60" y="269.30" width="1.20" height="9.50" fill="#000" fill-opacity="0.20"/>
<rect x="257.80" y="269.30" width="1.20" height="9.50" fill="#000" fill-opacity="0.40"/>
<rect x="259.80" y="269.30" width="1.20" height="9.50" fill="#000" fill-opacity="0.20"/>
<rect x="261.80" y="269.30" width="0.80" height="9.50" fill="#000" fill-opacity="0.40"/>
<rect x="263.40" y="269.30" width="1.60" height="9.50" fill="#000" fill-opacity="0.60"/>
<rect x="266.60" y="269.30" width="1.20" height="9.50" fill="#000" fill-opacity="0.40"/>
<rect x="269.40" y="269.30" width="1.20" height="9.50" fill="#000" fill-opacity="0.35"/>
<rect x="281.00" y="269.30" width="1.70" height="9.50" fill="#000" fill-opacity="0.40"/>
<rect x="283.10" y="269.30" width="1.70" height="9.50" fill="#000" fill-opacity="0.20"/>
<rect x="286.00" y="269.30" width="1.30" height="9.50" fill="#000" fill-opacity="0.40"/>
<rect x="289.80" y="269.30" width="1.30" height="9.50" fill="#000" fill-opacity="0.20"/>
<rect x="291.90" y="269.30" width="0.80" height="9.50" fill="#000" fill-opacity="0.40"/>
<rect x="298.20" y="269.30" width="1.60" height="9.50" fill="#000" fill-opacity="0.40"/>
<rect x="300.30" y="269.30" width="1.60" height="9.50" fill="#000" fill-opacity="0.65"/>
<rect x="302.80" y="269.30" width="1.20" height="9.50" fill="#000" fill-opacity="0.20"/>
<rect x="304.90" y="269.30" width="1.20" height="9.50" fill="#000" fill-opacity="0.40"/>
<rect x="312.00" y="269.30" width="1.20" height="9.50" fill="#000" fill-opacity="0.25"/>
<defs><linearGradient id="g6" gradientUnits="userSpaceOnUse" x1="233.1" y1="0" x2="314.8" y2="0"><stop offset="0.0000" stop-color="#d42020"/><stop offset="0.2993" stop-color="#d42020"/><stop offset="0.3054" stop-color="#f04e33"/><stop offset="0.6395" stop-color="#f04e33"/><stop offset="0.6457" stop-color="#f7a084"/><stop offset="0.9162" stop-color="#f7a084"/><stop offset="0.9223" stop-color="#fbd5c5"/><stop offset="0.9700" stop-color="#fbd5c5"/><stop offset="0.9761" stop-color="#f4f2f6"/><stop offset="0.9774" stop-color="#f4f2f6"/><stop offset="0.9835" stop-color="#5d9cd5"/><stop offset="1.0000" stop-color="#5d9cd5"/></linearGradient></defs>
<rect x="233.10" y="278.80" width="81.70" height="3.40" fill="url(#g6)" />
<path d="M233.10,294.20 L235.10,294.80 L243.10,294.90 L314.80,295.00 L314.80,297.50 L313.30,296.70 L299.80,296.40 L233.10,296.10 Z" fill="#d2d2d2" stroke="none"/>
<line x1="233.10" y1="295.20" x2="314.80" y2="295.20" stroke="#b4b4b4" stroke-width="0.6" />
<path d="M233.20,267.70 C233.27,266.75 233.43,265.03 233.60,262.00 C233.77,258.97 233.98,253.48 234.20,249.50 C234.42,245.52 234.57,240.68 234.90,238.10 C235.23,235.52 235.72,235.10 236.20,234.00 C236.68,232.90 237.20,232.05 237.80,231.50 C238.40,230.95 238.70,230.55 239.80,230.70 C240.90,230.85 240.92,230.90 244.40,232.40 C247.88,233.90 255.25,236.98 260.70,239.70 C266.15,242.42 271.63,245.83 277.10,248.70 C282.57,251.57 289.68,254.98 293.50,256.90 C297.32,258.82 298.10,259.38 300.00,260.20 C301.90,261.02 303.27,261.12 304.90,261.80 C306.53,262.48 308.43,263.62 309.80,264.30 C311.17,264.98 312.28,265.58 313.10,265.90 C313.92,266.22 314.43,266.15 314.70,266.20" fill="none" stroke="#66e65e" stroke-width="1.35" stroke-linejoin="round" stroke-linecap="round"/>
<line x1="233.10" y1="229.10" x2="233.10" y2="309.10" stroke="#8a8a8a" stroke-width="0.75" />
<line x1="233.10" y1="309.10" x2="314.80" y2="309.10" stroke="#8a8a8a" stroke-width="0.75" />
<text x="228.60" y="232.58" text-anchor="end" font-size="4.1" font-weight="bold" fill="#000" stroke="#000" stroke-width="0.18" >0.8</text>
<text x="228.60" y="241.78" text-anchor="end" font-size="4.1" font-weight="bold" fill="#000" stroke="#000" stroke-width="0.18" >0.6</text>
<text x="228.60" y="250.98" text-anchor="end" font-size="4.1" font-weight="bold" fill="#000" stroke="#000" stroke-width="0.18" >0.4</text>
<text x="228.60" y="259.88" text-anchor="end" font-size="4.1" font-weight="bold" fill="#000" stroke="#000" stroke-width="0.18" >0.2</text>
<text x="228.60" y="269.48" text-anchor="end" font-size="4.1" font-weight="bold" fill="#000" stroke="#000" stroke-width="0.18" >0.0</text>
<text x="228.40" y="285.78" text-anchor="end" font-size="4.1" font-weight="bold" fill="#000" stroke="#000" stroke-width="0.18" >2</text>
<text x="228.40" y="290.78" text-anchor="end" font-size="4.1" font-weight="bold" fill="#000" stroke="#000" stroke-width="0.18" >1</text>
<text x="228.40" y="295.98" text-anchor="end" font-size="4.1" font-weight="bold" fill="#000" stroke="#000" stroke-width="0.18" >0</text>
<text x="228.40" y="300.98" text-anchor="end" font-size="4.1" font-weight="bold" fill="#000" stroke="#000" stroke-width="0.18" >-1</text>
<text x="228.40" y="306.18" text-anchor="end" font-size="4.1" font-weight="bold" fill="#000" stroke="#000" stroke-width="0.18" >-2</text>
<text x="234.10" y="287.95" text-anchor="start" font-size="4.3" font-weight="normal" fill="#ee2a2a" stroke="#ee2a2a" stroke-width="0.18" >'CBD' (positively correlated)</text>
<text x="314.40" y="307.95" text-anchor="end" font-size="4.3" font-weight="normal" fill="#3b82c4" stroke="#3b82c4" stroke-width="0.18" >'Model' (negatively correlated)</text>
<text x="247.48" y="316.15" text-anchor="middle" font-size="4.3" font-weight="bold" fill="#000" stroke="#000" stroke-width="0.18" >5,000</text>
<text x="264.19" y="316.15" text-anchor="middle" font-size="4.3" font-weight="bold" fill="#000" stroke="#000" stroke-width="0.18" >10,000</text>
<text x="280.89" y="316.15" text-anchor="middle" font-size="4.3" font-weight="bold" fill="#000" stroke="#000" stroke-width="0.18" >15,000</text>
<text x="297.60" y="316.15" text-anchor="middle" font-size="4.3" font-weight="bold" fill="#000" stroke="#000" stroke-width="0.18" >20,000</text>
<text x="314.31" y="316.15" text-anchor="middle" font-size="4.3" font-weight="bold" fill="#000" stroke="#000" stroke-width="0.18" >25,000</text>
<text x="277.60" y="323.85" text-anchor="middle" font-size="4.3" font-weight="bold" fill="#000" stroke="#000" stroke-width="0.18" >Rank in Ordered Dataset</text>
<text transform="translate(219.05,247.90) rotate(-90)" text-anchor="middle" font-size="4.3" font-weight="bold" fill="#000" stroke="#000" stroke-width="0.18">Enrichment Score</text>
<text transform="translate(218.55,294.10) rotate(-90)" text-anchor="middle" font-size="4.3" font-weight="bold" fill="#000" stroke="#000" stroke-width="0.18">Ranked List Metric</text>
<text x="386.40" y="227.84" text-anchor="middle" font-size="5.4" font-weight="bold" fill="#000" stroke="#000" stroke-width="0.12" >Oxidative phosphorylation</text>
<rect x="345.50" y="232.10" width="0.6" height="38.90" fill="#000" fill-opacity="0.064"/>
<rect x="348.50" y="232.10" width="0.6" height="38.90" fill="#000" fill-opacity="0.053"/>
<rect x="352.30" y="232.10" width="0.6" height="38.90" fill="#000" fill-opacity="0.052"/>
<rect x="355.90" y="232.10" width="0.6" height="38.90" fill="#000" fill-opacity="0.055"/>
<rect x="358.50" y="232.10" width="0.6" height="38.90" fill="#000" fill-opacity="0.052"/>
<rect x="362.10" y="232.10" width="0.6" height="38.90" fill="#000" fill-opacity="0.044"/>
<rect x="365.50" y="232.10" width="0.6" height="38.90" fill="#000" fill-opacity="0.047"/>
<rect x="368.30" y="232.10" width="0.6" height="38.90" fill="#000" fill-opacity="0.047"/>
<rect x="370.90" y="232.10" width="0.6" height="38.90" fill="#000" fill-opacity="0.041"/>
<rect x="373.70" y="232.10" width="0.6" height="38.90" fill="#000" fill-opacity="0.047"/>
<rect x="377.50" y="232.10" width="0.6" height="38.90" fill="#000" fill-opacity="0.041"/>
<rect x="381.55" y="232.10" width="0.6" height="38.90" fill="#000" fill-opacity="0.053"/>
<rect x="387.15" y="232.10" width="0.6" height="38.90" fill="#000" fill-opacity="0.041"/>
<rect x="389.65" y="232.10" width="0.6" height="38.90" fill="#000" fill-opacity="0.050"/>
<rect x="395.05" y="232.10" width="0.6" height="38.90" fill="#000" fill-opacity="0.041"/>
<rect x="398.00" y="232.10" width="0.6" height="38.90" fill="#000" fill-opacity="0.047"/>
<rect x="401.95" y="232.10" width="0.6" height="38.90" fill="#000" fill-opacity="0.052"/>
<rect x="406.35" y="232.10" width="0.6" height="38.90" fill="#000" fill-opacity="0.047"/>
<rect x="409.70" y="232.10" width="0.6" height="38.90" fill="#000" fill-opacity="0.041"/>
<rect x="418.30" y="232.10" width="0.6" height="38.90" fill="#000" fill-opacity="0.047"/>
<rect x="422.25" y="232.10" width="0.6" height="38.90" fill="#000" fill-opacity="0.047"/>
<rect x="424.95" y="232.10" width="0.6" height="38.90" fill="#000" fill-opacity="0.041"/>
<rect x="344.80" y="271.00" width="2.00" height="9.50" fill="#000" fill-opacity="0.95"/>
<rect x="346.80" y="271.00" width="4.00" height="9.50" fill="#000" fill-opacity="0.60"/>
<rect x="351.20" y="271.00" width="2.80" height="9.50" fill="#000" fill-opacity="0.55"/>
<rect x="355.20" y="271.00" width="2.00" height="9.50" fill="#000" fill-opacity="0.65"/>
<rect x="358.00" y="271.00" width="1.60" height="9.50" fill="#000" fill-opacity="0.55"/>
<rect x="361.20" y="271.00" width="2.40" height="9.50" fill="#000" fill-opacity="0.30"/>
<rect x="364.80" y="271.00" width="2.00" height="9.50" fill="#000" fill-opacity="0.40"/>
<rect x="367.60" y="271.00" width="2.00" height="9.50" fill="#000" fill-opacity="0.40"/>
<rect x="370.40" y="271.00" width="1.60" height="9.50" fill="#000" fill-opacity="0.20"/>
<rect x="372.40" y="271.00" width="3.20" height="9.50" fill="#000" fill-opacity="0.40"/>
<rect x="377.20" y="271.00" width="1.20" height="9.50" fill="#000" fill-opacity="0.20"/>
<rect x="380.40" y="271.00" width="2.90" height="9.50" fill="#000" fill-opacity="0.60"/>
<rect x="387.00" y="271.00" width="0.90" height="9.50" fill="#000" fill-opacity="0.20"/>
<rect x="389.10" y="271.00" width="1.70" height="9.50" fill="#000" fill-opacity="0.50"/>
<rect x="394.50" y="271.00" width="1.70" height="9.50" fill="#000" fill-opacity="0.20"/>
<rect x="397.00" y="271.00" width="2.60" height="9.50" fill="#000" fill-opacity="0.40"/>
<rect x="400.80" y="271.00" width="2.90" height="9.50" fill="#000" fill-opacity="0.55"/>
<rect x="405.40" y="271.00" width="2.50" height="9.50" fill="#000" fill-opacity="0.40"/>
<rect x="409.20" y="271.00" width="1.60" height="9.50" fill="#000" fill-opacity="0.20"/>
<rect x="418.00" y="271.00" width="1.20" height="9.50" fill="#000" fill-opacity="0.40"/>
<rect x="421.30" y="271.00" width="2.50" height="9.50" fill="#000" fill-opacity="0.40"/>
<rect x="424.60" y="271.00" width="1.30" height="9.50" fill="#000" fill-opacity="0.20"/>
<defs><linearGradient id="g7" gradientUnits="userSpaceOnUse" x1="344.5" y1="0" x2="426.5" y2="0"><stop offset="0.0000" stop-color="#d42020"/><stop offset="0.2884" stop-color="#d42020"/><stop offset="0.2945" stop-color="#f04e33"/><stop offset="0.5457" stop-color="#f04e33"/><stop offset="0.5518" stop-color="#f7a084"/><stop offset="0.7043" stop-color="#f7a084"/><stop offset="0.7104" stop-color="#fbd5c5"/><stop offset="0.8323" stop-color="#fbd5c5"/><stop offset="0.8384" stop-color="#f4f2f6"/><stop offset="0.9030" stop-color="#f4f2f6"/><stop offset="0.9091" stop-color="#c0d7ee"/><stop offset="0.9543" stop-color="#c0d7ee"/><stop offset="0.9604" stop-color="#5d9cd5"/><stop offset="1.0000" stop-color="#5d9cd5"/></linearGradient></defs>
<rect x="344.50" y="280.50" width="82.00" height="3.50" fill="url(#g7)" />
<path d="M344.50,295.90 L346.50,296.50 L354.50,296.60 L426.50,296.70 L426.50,299.20 L425.00,298.40 L411.50,298.10 L344.50,297.80 Z" fill="#d2d2d2" stroke="none"/>
<line x1="344.50" y1="296.90" x2="426.50" y2="296.90" stroke="#b4b4b4" stroke-width="0.6" />
<path d="M344.60,266.60 C344.75,265.83 345.23,264.40 345.50,262.00 C345.77,259.60 345.80,254.65 346.20,252.20 C346.60,249.75 347.30,249.48 347.90,247.30 C348.50,245.12 349.07,241.15 349.80,239.10 C350.53,237.05 351.48,235.95 352.30,235.00 C353.12,234.05 353.62,233.82 354.70,233.40 C355.78,232.98 357.70,232.50 358.80,232.50 C359.90,232.50 359.80,232.80 361.30,233.40 C362.80,234.00 365.90,235.20 367.80,236.10 C369.70,237.00 369.15,236.67 372.70,238.80 C376.25,240.93 384.73,246.12 389.10,248.90 C393.47,251.68 395.63,253.58 398.90,255.50 C402.17,257.42 405.70,258.77 408.70,260.40 C411.70,262.03 414.98,264.35 416.90,265.30 C418.82,266.25 419.25,265.78 420.20,266.10 C421.15,266.42 421.92,267.12 422.60,267.20 C423.28,267.28 423.75,266.52 424.30,266.60 C424.85,266.68 425.63,267.52 425.90,267.70" fill="none" stroke="#66e65e" stroke-width="1.35" stroke-linejoin="round" stroke-linecap="round"/>
<line x1="344.50" y1="231.10" x2="344.50" y2="311.10" stroke="#8a8a8a" stroke-width="0.75" />
<line x1="344.50" y1="311.10" x2="426.50" y2="311.10" stroke="#8a8a8a" stroke-width="0.75" />
<text x="339.90" y="234.98" text-anchor="end" font-size="4.1" font-weight="bold" fill="#000" stroke="#000" stroke-width="0.18" >0.6</text>
<text x="339.90" y="245.98" text-anchor="end" font-size="4.1" font-weight="bold" fill="#000" stroke="#000" stroke-width="0.18" >0.4</text>
<text x="339.90" y="257.08" text-anchor="end" font-size="4.1" font-weight="bold" fill="#000" stroke="#000" stroke-width="0.18" >0.2</text>
<text x="339.90" y="268.08" text-anchor="end" font-size="4.1" font-weight="bold" fill="#000" stroke="#000" stroke-width="0.18" >0.0</text>
<text x="339.80" y="286.68" text-anchor="end" font-size="4.1" font-weight="bold" fill="#000" stroke="#000" stroke-width="0.18" >2</text>
<text x="339.80" y="292.38" text-anchor="end" font-size="4.1" font-weight="bold" fill="#000" stroke="#000" stroke-width="0.18" >1</text>
<text x="339.80" y="297.68" text-anchor="end" font-size="4.1" font-weight="bold" fill="#000" stroke="#000" stroke-width="0.18" >0</text>
<text x="339.80" y="303.08" text-anchor="end" font-size="4.1" font-weight="bold" fill="#000" stroke="#000" stroke-width="0.18" >-1</text>
<text x="339.80" y="308.48" text-anchor="end" font-size="4.1" font-weight="bold" fill="#000" stroke="#000" stroke-width="0.18" >-2</text>
<text x="345.50" y="289.05" text-anchor="start" font-size="4.3" font-weight="normal" fill="#ee2a2a" stroke="#ee2a2a" stroke-width="0.18" >'CBD' (positively correlated)</text>
<text x="426.10" y="309.75" text-anchor="end" font-size="4.3" font-weight="normal" fill="#3b82c4" stroke="#3b82c4" stroke-width="0.18" >'Model' (negatively correlated)</text>
<text x="358.93" y="318.15" text-anchor="middle" font-size="4.3" font-weight="bold" fill="#000" stroke="#000" stroke-width="0.18" >5,000</text>
<text x="375.70" y="318.15" text-anchor="middle" font-size="4.3" font-weight="bold" fill="#000" stroke="#000" stroke-width="0.18" >10,000</text>
<text x="392.47" y="318.15" text-anchor="middle" font-size="4.3" font-weight="bold" fill="#000" stroke="#000" stroke-width="0.18" >15,000</text>
<text x="409.24" y="318.15" text-anchor="middle" font-size="4.3" font-weight="bold" fill="#000" stroke="#000" stroke-width="0.18" >20,000</text>
<text x="426.01" y="318.15" text-anchor="middle" font-size="4.3" font-weight="bold" fill="#000" stroke="#000" stroke-width="0.18" >25,000</text>
<text x="389.00" y="325.65" text-anchor="middle" font-size="4.3" font-weight="bold" fill="#000" stroke="#000" stroke-width="0.18" >Rank in Ordered Dataset</text>
<text transform="translate(331.25,249.50) rotate(-90)" text-anchor="middle" font-size="4.3" font-weight="bold" fill="#000" stroke="#000" stroke-width="0.18">Enrichment Score</text>
<text transform="translate(331.25,296.10) rotate(-90)" text-anchor="middle" font-size="4.3" font-weight="bold" fill="#000" stroke="#000" stroke-width="0.18">Ranked List Metric</text>
<text x="498.00" y="220.14" text-anchor="middle" font-size="5.4" font-weight="bold" fill="#000" stroke="#000" stroke-width="0.12" >Chemical carcinogenesis</text>
<text x="497.70" y="226.94" text-anchor="middle" font-size="5.4" font-weight="bold" fill="#000" stroke="#000" stroke-width="0.12" >reactive oxygen species</text>
<rect x="457.50" y="232.10" width="0.6" height="38.90" fill="#000" fill-opacity="0.064"/>
<rect x="459.10" y="232.10" width="0.6" height="38.90" fill="#000" fill-opacity="0.049"/>
<rect x="461.50" y="232.10" width="0.6" height="38.90" fill="#000" fill-opacity="0.056"/>
<rect x="464.90" y="232.10" width="0.6" height="38.90" fill="#000" fill-opacity="0.052"/>
<rect x="469.50" y="232.10" width="0.6" height="38.90" fill="#000" fill-opacity="0.055"/>
<rect x="474.10" y="232.10" width="0.6" height="38.90" fill="#000" fill-opacity="0.044"/>
<rect x="477.30" y="232.10" width="0.6" height="38.90" fill="#000" fill-opacity="0.047"/>
<rect x="481.30" y="232.10" width="0.6" height="38.90" fill="#000" fill-opacity="0.044"/>
<rect x="484.70" y="232.10" width="0.6" height="38.90" fill="#000" fill-opacity="0.047"/>
<rect x="488.10" y="232.10" width="0.6" height="38.90" fill="#000" fill-opacity="0.050"/>
<rect x="491.70" y="232.10" width="0.6" height="38.90" fill="#000" fill-opacity="0.047"/>
<rect x="494.50" y="232.10" width="0.6" height="38.90" fill="#000" fill-opacity="0.047"/>
<rect x="498.50" y="232.10" width="0.6" height="38.90" fill="#000" fill-opacity="0.044"/>
<rect x="502.25" y="232.10" width="0.6" height="38.90" fill="#000" fill-opacity="0.047"/>
<rect x="505.60" y="232.10" width="0.6" height="38.90" fill="#000" fill-opacity="0.041"/>
<rect x="508.95" y="232.10" width="0.6" height="38.90" fill="#000" fill-opacity="0.050"/>
<rect x="512.70" y="232.10" width="0.6" height="38.90" fill="#000" fill-opacity="0.047"/>
<rect x="516.25" y="232.10" width="0.6" height="38.90" fill="#000" fill-opacity="0.055"/>
<rect x="519.20" y="232.10" width="0.6" height="38.90" fill="#000" fill-opacity="0.044"/>
<rect x="521.95" y="232.10" width="0.6" height="38.90" fill="#000" fill-opacity="0.047"/>
<rect x="527.15" y="232.10" width="0.6" height="38.90" fill="#000" fill-opacity="0.050"/>
<rect x="531.75" y="232.10" width="0.6" height="38.90" fill="#000" fill-opacity="0.047"/>
<rect x="534.25" y="232.10" width="0.6" height="38.90" fill="#000" fill-opacity="0.053"/>
<rect x="537.40" y="232.10" width="0.6" height="38.90" fill="#000" fill-opacity="0.041"/>
<rect x="456.80" y="271.00" width="2.00" height="9.50" fill="#000" fill-opacity="0.95"/>
<rect x="458.80" y="271.00" width="1.20" height="9.50" fill="#000" fill-opacity="0.45"/>
<rect x="460.40" y="271.00" width="2.80" height="9.50" fill="#000" fill-opacity="0.70"/>
<rect x="463.60" y="271.00" width="3.20" height="9.50" fill="#000" fill-opacity="0.55"/>
<rect x="467.60" y="271.00" width="4.40" height="9.50" fill="#000" fill-opacity="0.65"/>
<rect x="473.20" y="271.00" width="2.40" height="9.50" fill="#000" fill-opacity="0.30"/>
<rect x="476.40" y="271.00" width="2.40" height="9.50" fill="#000" fill-opacity="0.40"/>
<rect x="479.60" y="271.00" width="4.00" height="9.50" fill="#000" fill-opacity="0.30"/>
<rect x="484.00" y="271.00" width="2.00" height="9.50" fill="#000" fill-opacity="0.40"/>
<rect x="486.80" y="271.00" width="3.20" height="9.50" fill="#000" fill-opacity="0.50"/>
<rect x="490.80" y="271.00" width="2.40" height="9.50" fill="#000" fill-opacity="0.40"/>
<rect x="494.00" y="271.00" width="1.60" height="9.50" fill="#000" fill-opacity="0.40"/>
<rect x="497.30" y="271.00" width="3.00" height="9.50" fill="#000" fill-opacity="0.30"/>
<rect x="501.90" y="271.00" width="1.30" height="9.50" fill="#000" fill-opacity="0.40"/>
<rect x="505.30" y="271.00" width="1.20" height="9.50" fill="#000" fill-opacity="0.20"/>
<rect x="507.80" y="271.00" width="2.90" height="9.50" fill="#000" fill-opacity="0.50"/>
<rect x="511.10" y="271.00" width="3.80" height="9.50" fill="#000" fill-opacity="0.40"/>
<rect x="515.30" y="271.00" width="2.50" height="9.50" fill="#000" fill-opacity="0.65"/>
<rect x="518.20" y="271.00" width="2.60" height="9.50" fill="#000" fill-opacity="0.30"/>
<rect x="521.20" y="271.00" width="2.10" height="9.50" fill="#000" fill-opacity="0.40"/>
<rect x="525.80" y="271.00" width="3.30" height="9.50" fill="#000" fill-opacity="0.50"/>
<rect x="530.80" y="271.00" width="2.50" height="9.50" fill="#000" fill-opacity="0.40"/>
<rect x="533.70" y="271.00" width="1.70" height="9.50" fill="#000" fill-opacity="0.60"/>
<rect x="537.10" y="271.00" width="1.20" height="9.50" fill="#000" fill-opacity="0.20"/>
<defs><linearGradient id="g8" gradientUnits="userSpaceOnUse" x1="456.5" y1="0" x2="539.0" y2="0"><stop offset="0.0000" stop-color="#d42020"/><stop offset="0.1461" stop-color="#d42020"/><stop offset="0.1521" stop-color="#f04e33"/><stop offset="0.2770" stop-color="#f04e33"/><stop offset="0.2830" stop-color="#f7a084"/><stop offset="0.4915" stop-color="#f7a084"/><stop offset="0.4976" stop-color="#fbd5c5"/><stop offset="0.6333" stop-color="#fbd5c5"/><stop offset="0.6394" stop-color="#e3ebf6"/><stop offset="0.8067" stop-color="#e3ebf6"/><stop offset="0.8127" stop-color="#c0d7ee"/><stop offset="0.8976" stop-color="#c0d7ee"/><stop offset="0.9036" stop-color="#5d9cd5"/><stop offset="1.0000" stop-color="#5d9cd5"/></linearGradient></defs>
<rect x="456.50" y="280.50" width="82.50" height="3.50" fill="url(#g8)" />
<path d="M456.50,296.10 L458.50,296.70 L466.50,296.80 L539.00,296.90 L539.00,299.40 L537.50,298.60 L524.00,298.30 L456.50,298.00 Z" fill="#d2d2d2" stroke="none"/>
<line x1="456.50" y1="297.10" x2="539.00" y2="297.10" stroke="#b4b4b4" stroke-width="0.6" />
<path d="M456.60,266.00 C456.67,265.00 456.82,262.52 457.00,260.00 C457.18,257.48 457.30,253.65 457.70,250.90 C458.10,248.15 458.72,245.95 459.40,243.50 C460.08,241.05 460.98,237.77 461.80,236.20 C462.62,234.63 463.20,234.60 464.30,234.10 C465.40,233.60 467.18,233.35 468.40,233.20 C469.62,233.05 470.25,232.83 471.60,233.20 C472.95,233.57 474.32,234.13 476.50,235.40 C478.68,236.67 480.60,237.95 484.70,240.80 C488.80,243.65 496.47,249.05 501.10,252.50 C505.73,255.95 509.77,259.58 512.50,261.50 C515.23,263.42 515.58,263.03 517.50,264.00 C519.42,264.97 522.37,266.57 524.00,267.30 C525.63,268.03 525.93,268.47 527.30,268.40 C528.67,268.33 530.83,267.50 532.20,266.90 C533.57,266.30 534.68,264.87 535.50,264.80 C536.32,264.73 536.62,266.30 537.10,266.50 C537.58,266.70 538.18,266.08 538.40,266.00" fill="none" stroke="#66e65e" stroke-width="1.35" stroke-linejoin="round" stroke-linecap="round"/>
<line x1="456.50" y1="231.10" x2="456.50" y2="311.10" stroke="#8a8a8a" stroke-width="0.75" />
<line x1="456.50" y1="311.10" x2="539.00" y2="311.10" stroke="#8a8a8a" stroke-width="0.75" />
<text x="452.00" y="236.28" text-anchor="end" font-size="4.1" font-weight="bold" fill="#000" stroke="#000" stroke-width="0.18" >0.4</text>
<text x="452.00" y="243.98" text-anchor="end" font-size="4.1" font-weight="bold" fill="#000" stroke="#000" stroke-width="0.18" >0.3</text>
<text x="452.00" y="251.68" text-anchor="end" font-size="4.1" font-weight="bold" fill="#000" stroke="#000" stroke-width="0.18" >0.2</text>
<text x="452.00" y="259.58" text-anchor="end" font-size="4.1" font-weight="bold" fill="#000" stroke="#000" stroke-width="0.18" >0.1</text>
<text x="452.00" y="267.38" text-anchor="end" font-size="4.1" font-weight="bold" fill="#000" stroke="#000" stroke-width="0.18" >0.0</text>
<text x="452.60" y="287.08" text-anchor="end" font-size="4.1" font-weight="bold" fill="#000" stroke="#000" stroke-width="0.18" >2</text>
<text x="452.60" y="292.68" text-anchor="end" font-size="4.1" font-weight="bold" fill="#000" stroke="#000" stroke-width="0.18" >1</text>
<text x="452.60" y="297.88" text-anchor="end" font-size="4.1" font-weight="bold" fill="#000" stroke="#000" stroke-width="0.18" >0</text>
<text x="452.60" y="303.08" text-anchor="end" font-size="4.1" font-weight="bold" fill="#000" stroke="#000" stroke-width="0.18" >-1</text>
<text x="452.60" y="308.48" text-anchor="end" font-size="4.1" font-weight="bold" fill="#000" stroke="#000" stroke-width="0.18" >-2</text>
<text x="457.50" y="289.55" text-anchor="start" font-size="4.3" font-weight="normal" fill="#ee2a2a" stroke="#ee2a2a" stroke-width="0.18" >'CBD' (positively correlated)</text>
<text x="538.60" y="309.35" text-anchor="end" font-size="4.3" font-weight="normal" fill="#3b82c4" stroke="#3b82c4" stroke-width="0.18" >'Model' (negatively correlated)</text>
<text x="471.02" y="317.95" text-anchor="middle" font-size="4.3" font-weight="bold" fill="#000" stroke="#000" stroke-width="0.18" >5,000</text>
<text x="487.89" y="317.95" text-anchor="middle" font-size="4.3" font-weight="bold" fill="#000" stroke="#000" stroke-width="0.18" >10,000</text>
<text x="504.76" y="317.95" text-anchor="middle" font-size="4.3" font-weight="bold" fill="#000" stroke="#000" stroke-width="0.18" >15,000</text>
<text x="521.63" y="317.95" text-anchor="middle" font-size="4.3" font-weight="bold" fill="#000" stroke="#000" stroke-width="0.18" >20,000</text>
<text x="538.50" y="317.95" text-anchor="middle" font-size="4.3" font-weight="bold" fill="#000" stroke="#000" stroke-width="0.18" >25,000</text>
<text x="501.00" y="324.95" text-anchor="middle" font-size="4.3" font-weight="bold" fill="#000" stroke="#000" stroke-width="0.18" >Rank in Ordered Dataset</text>
<text transform="translate(443.05,249.30) rotate(-90)" text-anchor="middle" font-size="4.3" font-weight="bold" fill="#000" stroke="#000" stroke-width="0.18">Enrichment Score</text>
<text transform="translate(442.55,295.80) rotate(-90)" text-anchor="middle" font-size="4.3" font-weight="bold" fill="#000" stroke="#000" stroke-width="0.18">Ranked List Metric</text>
<text x="271.50" y="337.74" text-anchor="middle" font-size="5.4" font-weight="bold" fill="#000" stroke="#000" stroke-width="0.12" >Thermogenesis</text>
<rect x="235.50" y="342.10" width="0.6" height="39.90" fill="#000" fill-opacity="0.064"/>
<rect x="238.10" y="342.10" width="0.6" height="39.90" fill="#000" fill-opacity="0.053"/>
<rect x="241.70" y="342.10" width="0.6" height="39.90" fill="#000" fill-opacity="0.053"/>
<rect x="245.50" y="342.10" width="0.6" height="39.90" fill="#000" fill-opacity="0.056"/>
<rect x="248.90" y="342.10" width="0.6" height="39.90" fill="#000" fill-opacity="0.053"/>
<rect x="250.90" y="342.10" width="0.6" height="39.90" fill="#000" fill-opacity="0.041"/>
<rect x="253.10" y="342.10" width="0.6" height="39.90" fill="#000" fill-opacity="0.041"/>
<rect x="256.10" y="342.10" width="0.6" height="39.90" fill="#000" fill-opacity="0.052"/>
<rect x="258.30" y="342.10" width="0.6" height="39.90" fill="#000" fill-opacity="0.047"/>
<rect x="260.50" y="342.10" width="0.6" height="39.90" fill="#000" fill-opacity="0.041"/>
<rect x="262.70" y="342.10" width="0.6" height="39.90" fill="#000" fill-opacity="0.052"/>
<rect x="264.70" y="342.10" width="0.6" height="39.90" fill="#000" fill-opacity="0.047"/>
<rect x="268.50" y="342.10" width="0.6" height="39.90" fill="#000" fill-opacity="0.047"/>
<rect x="272.35" y="342.10" width="0.6" height="39.90" fill="#000" fill-opacity="0.052"/>
<rect x="275.45" y="342.10" width="0.6" height="39.90" fill="#000" fill-opacity="0.041"/>
<rect x="277.55" y="342.10" width="0.6" height="39.90" fill="#000" fill-opacity="0.047"/>
<rect x="280.45" y="342.10" width="0.6" height="39.90" fill="#000" fill-opacity="0.047"/>
<rect x="282.80" y="342.10" width="0.6" height="39.90" fill="#000" fill-opacity="0.044"/>
<rect x="285.50" y="342.10" width="0.6" height="39.90" fill="#000" fill-opacity="0.047"/>
<rect x="288.65" y="342.10" width="0.6" height="39.90" fill="#000" fill-opacity="0.052"/>
<rect x="290.95" y="342.10" width="0.6" height="39.90" fill="#000" fill-opacity="0.047"/>
<rect x="293.05" y="342.10" width="0.6" height="39.90" fill="#000" fill-opacity="0.055"/>
<rect x="296.80" y="342.10" width="0.6" height="39.90" fill="#000" fill-opacity="0.041"/>
<rect x="299.50" y="342.10" width="0.6" height="39.90" fill="#000" fill-opacity="0.047"/>
<rect x="302.65" y="342.10" width="0.6" height="39.90" fill="#000" fill-opacity="0.052"/>
<rect x="305.35" y="342.10" width="0.6" height="39.90" fill="#000" fill-opacity="0.055"/>
<rect x="307.85" y="342.10" width="0.6" height="39.90" fill="#000" fill-opacity="0.053"/>
<rect x="309.95" y="342.10" width="0.6" height="39.90" fill="#000" fill-opacity="0.044"/>
<rect x="313.95" y="342.10" width="0.6" height="39.90" fill="#000" fill-opacity="0.041"/>
<rect x="234.80" y="382.00" width="2.00" height="9.00" fill="#000" fill-opacity="0.95"/>
<rect x="236.80" y="382.00" width="3.20" height="9.00" fill="#000" fill-opacity="0.60"/>
<rect x="240.40" y="382.00" width="3.20" height="9.00" fill="#000" fill-opacity="0.60"/>
<rect x="244.40" y="382.00" width="2.80" height="9.00" fill="#000" fill-opacity="0.70"/>
<rect x="248.40" y="382.00" width="1.60" height="9.00" fill="#000" fill-opacity="0.60"/>
<rect x="250.40" y="382.00" width="1.60" height="9.00" fill="#000" fill-opacity="0.20"/>
<rect x="252.80" y="382.00" width="1.20" height="9.00" fill="#000" fill-opacity="0.20"/>
<rect x="255.20" y="382.00" width="2.40" height="9.00" fill="#000" fill-opacity="0.55"/>
<rect x="258.00" y="382.00" width="1.20" height="9.00" fill="#000" fill-opacity="0.40"/>
<rect x="260.40" y="382.00" width="0.80" height="9.00" fill="#000" fill-opacity="0.20"/>
<rect x="262.00" y="382.00" width="2.00" height="9.00" fill="#000" fill-opacity="0.55"/>
<rect x="264.40" y="382.00" width="1.20" height="9.00" fill="#000" fill-opacity="0.40"/>
<rect x="267.60" y="382.00" width="2.40" height="9.00" fill="#000" fill-opacity="0.40"/>
<rect x="272.00" y="382.00" width="1.30" height="9.00" fill="#000" fill-opacity="0.55"/>
<rect x="275.30" y="382.00" width="0.90" height="9.00" fill="#000" fill-opacity="0.20"/>
<rect x="277.00" y="382.00" width="1.70" height="9.00" fill="#000" fill-opacity="0.40"/>
<rect x="279.90" y="382.00" width="1.70" height="9.00" fill="#000" fill-opacity="0.40"/>
<rect x="282.50" y="382.00" width="1.20" height="9.00" fill="#000" fill-opacity="0.30"/>
<rect x="285.00" y="382.00" width="1.60" height="9.00" fill="#000" fill-opacity="0.40"/>
<rect x="287.90" y="382.00" width="2.10" height="9.00" fill="#000" fill-opacity="0.55"/>
<rect x="290.40" y="382.00" width="1.70" height="9.00" fill="#000" fill-opacity="0.40"/>
<rect x="292.50" y="382.00" width="1.70" height="9.00" fill="#000" fill-opacity="0.65"/>
<rect x="296.70" y="382.00" width="0.80" height="9.00" fill="#000" fill-opacity="0.20"/>
<rect x="298.80" y="382.00" width="2.00" height="9.00" fill="#000" fill-opacity="0.40"/>
<rect x="301.70" y="382.00" width="2.50" height="9.00" fill="#000" fill-opacity="0.55"/>
<rect x="305.00" y="382.00" width="1.30" height="9.00" fill="#000" fill-opacity="0.65"/>
<rect x="307.10" y="382.00" width="2.10" height="9.00" fill="#000" fill-opacity="0.60"/>
<rect x="309.60" y="382.00" width="1.30" height="9.00" fill="#000" fill-opacity="0.30"/>
<rect x="312.60" y="382.00" width="3.30" height="9.00" fill="#000" fill-opacity="0.20"/>
<defs><linearGradient id="g9" gradientUnits="userSpaceOnUse" x1="234.5" y1="0" x2="317.2" y2="0"><stop offset="0.0000" stop-color="#d42020"/><stop offset="0.1457" stop-color="#d42020"/><stop offset="0.1518" stop-color="#f04e33"/><stop offset="0.2956" stop-color="#f04e33"/><stop offset="0.3017" stop-color="#f7a084"/><stop offset="0.5012" stop-color="#f7a084"/><stop offset="0.5073" stop-color="#fbd5c5"/><stop offset="0.6427" stop-color="#fbd5c5"/><stop offset="0.6487" stop-color="#e3ebf6"/><stop offset="0.7938" stop-color="#e3ebf6"/><stop offset="0.7999" stop-color="#c0d7ee"/><stop offset="0.9051" stop-color="#c0d7ee"/><stop offset="0.9111" stop-color="#5d9cd5"/><stop offset="1.0000" stop-color="#5d9cd5"/></linearGradient></defs>
<rect x="234.50" y="391.00" width="82.70" height="3.50" fill="url(#g9)" />
<path d="M234.50,406.30 L236.50,406.90 L244.50,407.00 L317.20,407.10 L317.20,409.60 L315.70,408.80 L302.20,408.50 L234.50,408.20 Z" fill="#d2d2d2" stroke="none"/>
<line x1="234.50" y1="407.30" x2="317.20" y2="407.30" stroke="#b4b4b4" stroke-width="0.6" />
<path d="M234.60,376.50 C234.70,375.42 234.93,372.60 235.20,370.00 C235.47,367.40 235.70,363.23 236.20,360.90 C236.70,358.57 237.47,358.18 238.20,356.00 C238.93,353.82 239.78,349.72 240.60,347.80 C241.42,345.88 241.87,345.23 243.10,344.50 C244.33,343.77 246.63,343.45 248.00,343.40 C249.37,343.35 249.93,343.52 251.30,344.20 C252.67,344.88 254.30,346.40 256.20,347.50 C258.10,348.60 258.88,348.30 262.70,350.80 C266.52,353.30 274.73,359.05 279.10,362.50 C283.47,365.95 286.17,369.45 288.90,371.50 C291.63,373.55 293.58,373.70 295.50,374.80 C297.42,375.90 298.77,377.55 300.40,378.10 C302.03,378.65 303.67,378.30 305.30,378.10 C306.93,377.90 308.98,376.90 310.20,376.90 C311.42,376.90 311.78,377.90 312.60,378.10 C313.42,378.30 314.47,378.73 315.10,378.10 C315.73,377.47 316.07,375.15 316.40,374.30 C316.73,373.45 316.98,373.22 317.10,373.00" fill="none" stroke="#66e65e" stroke-width="1.35" stroke-linejoin="round" stroke-linecap="round"/>
<line x1="234.50" y1="341.10" x2="234.50" y2="421.30" stroke="#8a8a8a" stroke-width="0.75" />
<line x1="234.50" y1="421.30" x2="317.20" y2="421.30" stroke="#8a8a8a" stroke-width="0.75" />
<text x="229.50" y="346.68" text-anchor="end" font-size="4.1" font-weight="bold" fill="#000" stroke="#000" stroke-width="0.18" >0.4</text>
<text x="229.50" y="354.58" text-anchor="end" font-size="4.1" font-weight="bold" fill="#000" stroke="#000" stroke-width="0.18" >0.3</text>
<text x="229.50" y="362.38" text-anchor="end" font-size="4.1" font-weight="bold" fill="#000" stroke="#000" stroke-width="0.18" >0.2</text>
<text x="229.50" y="370.48" text-anchor="end" font-size="4.1" font-weight="bold" fill="#000" stroke="#000" stroke-width="0.18" >0.1</text>
<text x="229.50" y="378.08" text-anchor="end" font-size="4.1" font-weight="bold" fill="#000" stroke="#000" stroke-width="0.18" >0.0</text>
<text x="230.10" y="398.38" text-anchor="end" font-size="4.1" font-weight="bold" fill="#000" stroke="#000" stroke-width="0.18" >2</text>
<text x="230.10" y="403.08" text-anchor="end" font-size="4.1" font-weight="bold" fill="#000" stroke="#000" stroke-width="0.18" >1</text>
<text x="230.10" y="408.08" text-anchor="end" font-size="4.1" font-weight="bold" fill="#000" stroke="#000" stroke-width="0.18" >0</text>
<text x="230.10" y="413.38" text-anchor="end" font-size="4.1" font-weight="bold" fill="#000" stroke="#000" stroke-width="0.18" >-1</text>
<text x="230.10" y="418.58" text-anchor="end" font-size="4.1" font-weight="bold" fill="#000" stroke="#000" stroke-width="0.18" >-2</text>
<text x="235.50" y="399.75" text-anchor="start" font-size="4.3" font-weight="normal" fill="#ee2a2a" stroke="#ee2a2a" stroke-width="0.18" >'CBD' (positively correlated)</text>
<text x="316.80" y="419.95" text-anchor="end" font-size="4.3" font-weight="normal" fill="#3b82c4" stroke="#3b82c4" stroke-width="0.18" >'Model' (negatively correlated)</text>
<text x="249.06" y="428.45" text-anchor="middle" font-size="4.3" font-weight="bold" fill="#000" stroke="#000" stroke-width="0.18" >5,000</text>
<text x="265.97" y="428.45" text-anchor="middle" font-size="4.3" font-weight="bold" fill="#000" stroke="#000" stroke-width="0.18" >10,000</text>
<text x="282.88" y="428.45" text-anchor="middle" font-size="4.3" font-weight="bold" fill="#000" stroke="#000" stroke-width="0.18" >15,000</text>
<text x="299.79" y="428.45" text-anchor="middle" font-size="4.3" font-weight="bold" fill="#000" stroke="#000" stroke-width="0.18" >20,000</text>
<text x="316.70" y="428.45" text-anchor="middle" font-size="4.3" font-weight="bold" fill="#000" stroke="#000" stroke-width="0.18" >25,000</text>
<text x="279.00" y="435.85" text-anchor="middle" font-size="4.3" font-weight="bold" fill="#000" stroke="#000" stroke-width="0.18" >Rank in Ordered Dataset</text>
<text transform="translate(220.55,359.90) rotate(-90)" text-anchor="middle" font-size="4.3" font-weight="bold" fill="#000" stroke="#000" stroke-width="0.18">Enrichment Score</text>
<text transform="translate(219.15,406.30) rotate(-90)" text-anchor="middle" font-size="4.3" font-weight="bold" fill="#000" stroke="#000" stroke-width="0.18">Ranked List Metric</text>
<text x="393.30" y="337.74" text-anchor="middle" font-size="5.4" font-weight="bold" fill="#000" stroke="#000" stroke-width="0.12" >Retrograde endocannabinoid signaling</text>
<rect x="347.50" y="342.10" width="0.6" height="39.30" fill="#000" fill-opacity="0.056"/>
<rect x="351.30" y="342.10" width="0.6" height="39.30" fill="#000" fill-opacity="0.062"/>
<rect x="353.90" y="342.10" width="0.6" height="39.30" fill="#000" fill-opacity="0.047"/>
<rect x="357.30" y="342.10" width="0.6" height="39.30" fill="#000" fill-opacity="0.044"/>
<rect x="360.90" y="342.10" width="0.6" height="39.30" fill="#000" fill-opacity="0.056"/>
<rect x="364.50" y="342.10" width="0.6" height="39.30" fill="#000" fill-opacity="0.041"/>
<rect x="368.10" y="342.10" width="0.6" height="39.30" fill="#000" fill-opacity="0.047"/>
<rect x="370.50" y="342.10" width="0.6" height="39.30" fill="#000" fill-opacity="0.053"/>
<rect x="374.70" y="342.10" width="0.6" height="39.30" fill="#000" fill-opacity="0.047"/>
<rect x="380.10" y="342.10" width="0.6" height="39.30" fill="#000" fill-opacity="0.056"/>
<rect x="384.70" y="342.10" width="0.6" height="39.30" fill="#000" fill-opacity="0.041"/>
<rect x="387.70" y="342.10" width="0.6" height="39.30" fill="#000" fill-opacity="0.047"/>
<rect x="393.55" y="342.10" width="0.6" height="39.30" fill="#000" fill-opacity="0.052"/>
<rect x="396.05" y="342.10" width="0.6" height="39.30" fill="#000" fill-opacity="0.056"/>
<rect x="400.25" y="342.10" width="0.6" height="39.30" fill="#000" fill-opacity="0.052"/>
<rect x="404.35" y="342.10" width="0.6" height="39.30" fill="#000" fill-opacity="0.047"/>
<rect x="409.40" y="342.10" width="0.6" height="39.30" fill="#000" fill-opacity="0.050"/>
<rect x="413.80" y="342.10" width="0.6" height="39.30" fill="#000" fill-opacity="0.047"/>
<rect x="417.15" y="342.10" width="0.6" height="39.30" fill="#000" fill-opacity="0.041"/>
<rect x="420.50" y="342.10" width="0.6" height="39.30" fill="#000" fill-opacity="0.047"/>
<rect x="424.65" y="342.10" width="0.6" height="39.30" fill="#000" fill-opacity="0.041"/>
<rect x="346.80" y="381.40" width="2.00" height="8.90" fill="#000" fill-opacity="0.70"/>
<rect x="350.40" y="381.40" width="2.40" height="8.90" fill="#000" fill-opacity="0.90"/>
<rect x="353.20" y="381.40" width="2.00" height="8.90" fill="#000" fill-opacity="0.40"/>
<rect x="356.00" y="381.40" width="3.20" height="8.90" fill="#000" fill-opacity="0.30"/>
<rect x="360.40" y="381.40" width="1.60" height="8.90" fill="#000" fill-opacity="0.70"/>
<rect x="363.60" y="381.40" width="2.40" height="8.90" fill="#000" fill-opacity="0.20"/>
<rect x="367.20" y="381.40" width="2.40" height="8.90" fill="#000" fill-opacity="0.40"/>
<rect x="370.00" y="381.40" width="1.60" height="8.90" fill="#000" fill-opacity="0.60"/>
<rect x="373.20" y="381.40" width="3.60" height="8.90" fill="#000" fill-opacity="0.40"/>
<rect x="379.60" y="381.40" width="1.60" height="8.90" fill="#000" fill-opacity="0.70"/>
<rect x="384.00" y="381.40" width="2.00" height="8.90" fill="#000" fill-opacity="0.20"/>
<rect x="386.10" y="381.40" width="3.80" height="8.90" fill="#000" fill-opacity="0.40"/>
<rect x="392.80" y="381.40" width="2.10" height="8.90" fill="#000" fill-opacity="0.55"/>
<rect x="395.70" y="381.40" width="1.30" height="8.90" fill="#000" fill-opacity="0.70"/>
<rect x="399.50" y="381.40" width="2.10" height="8.90" fill="#000" fill-opacity="0.55"/>
<rect x="403.60" y="381.40" width="2.10" height="8.90" fill="#000" fill-opacity="0.40"/>
<rect x="407.80" y="381.40" width="3.80" height="8.90" fill="#000" fill-opacity="0.50"/>
<rect x="412.80" y="381.40" width="2.60" height="8.90" fill="#000" fill-opacity="0.40"/>
<rect x="416.60" y="381.40" width="1.70" height="8.90" fill="#000" fill-opacity="0.20"/>
<rect x="419.10" y="381.40" width="3.40" height="8.90" fill="#000" fill-opacity="0.40"/>
<rect x="424.10" y="381.40" width="1.70" height="8.90" fill="#000" fill-opacity="0.20"/>
<defs><linearGradient id="g10" gradientUnits="userSpaceOnUse" x1="346.8" y1="0" x2="429.0" y2="0"><stop offset="0.0000" stop-color="#d42020"/><stop offset="0.1916" stop-color="#d42020"/><stop offset="0.1977" stop-color="#f04e33"/><stop offset="0.3230" stop-color="#f04e33"/><stop offset="0.3291" stop-color="#f7a084"/><stop offset="0.4799" stop-color="#f7a084"/><stop offset="0.4860" stop-color="#fbd5c5"/><stop offset="0.6429" stop-color="#fbd5c5"/><stop offset="0.6490" stop-color="#e3ebf6"/><stop offset="0.7439" stop-color="#e3ebf6"/><stop offset="0.7500" stop-color="#c0d7ee"/><stop offset="0.8558" stop-color="#c0d7ee"/><stop offset="0.8619" stop-color="#5d9cd5"/><stop offset="0.9276" stop-color="#5d9cd5"/><stop offset="0.9337" stop-color="#3a7fc1"/><stop offset="1.0000" stop-color="#3a7fc1"/></linearGradient></defs>
<rect x="346.80" y="390.30" width="82.20" height="3.60" fill="url(#g10)" />
<path d="M346.80,406.00 L348.80,406.60 L356.80,406.70 L429.00,406.80 L429.00,409.30 L427.50,408.50 L414.00,408.20 L346.80,407.90 Z" fill="#d2d2d2" stroke="none"/>
<line x1="346.80" y1="407.00" x2="429.00" y2="407.00" stroke="#b4b4b4" stroke-width="0.6" />
<path d="M346.80,376.00 C346.95,374.58 347.35,370.28 347.70,367.50 C348.05,364.72 348.43,360.80 348.90,359.30 C349.37,357.80 349.97,360.42 350.50,358.50 C351.03,356.58 351.60,349.98 352.10,347.80 C352.60,345.62 352.73,345.80 353.50,345.40 C354.27,345.00 355.62,345.60 356.70,345.40 C357.78,345.20 359.03,344.62 360.00,344.20 C360.97,343.78 361.42,342.85 362.50,342.90 C363.58,342.95 364.47,343.40 366.50,344.50 C368.53,345.60 371.97,347.45 374.70,349.50 C377.43,351.55 380.17,354.22 382.90,356.80 C385.63,359.38 388.37,362.68 391.10,365.00 C393.83,367.32 396.57,369.07 399.30,370.70 C402.03,372.33 405.05,373.83 407.50,374.80 C409.95,375.77 412.10,376.03 414.00,376.50 C415.90,376.97 417.53,377.60 418.90,377.60 C420.27,377.60 421.25,376.88 422.20,376.50 C423.15,376.12 423.83,375.30 424.60,375.30 C425.37,375.30 426.17,376.03 426.80,376.50 C427.43,376.97 428.13,377.83 428.40,378.10" fill="none" stroke="#66e65e" stroke-width="1.35" stroke-linejoin="round" stroke-linecap="round"/>
<line x1="346.80" y1="341.10" x2="346.80" y2="421.30" stroke="#8a8a8a" stroke-width="0.75" />
<line x1="346.80" y1="421.30" x2="429.00" y2="421.30" stroke="#8a8a8a" stroke-width="0.75" />
<text x="341.70" y="346.28" text-anchor="end" font-size="4.1" font-weight="bold" fill="#000" stroke="#000" stroke-width="0.18" >0.4</text>
<text x="341.70" y="354.18" text-anchor="end" font-size="4.1" font-weight="bold" fill="#000" stroke="#000" stroke-width="0.18" >0.3</text>
<text x="341.70" y="361.98" text-anchor="end" font-size="4.1" font-weight="bold" fill="#000" stroke="#000" stroke-width="0.18" >0.2</text>
<text x="341.70" y="369.88" text-anchor="end" font-size="4.1" font-weight="bold" fill="#000" stroke="#000" stroke-width="0.18" >0.1</text>
<text x="341.70" y="377.38" text-anchor="end" font-size="4.1" font-weight="bold" fill="#000" stroke="#000" stroke-width="0.18" >0.0</text>
<text x="342.10" y="397.78" text-anchor="end" font-size="4.1" font-weight="bold" fill="#000" stroke="#000" stroke-width="0.18" >2</text>
<text x="342.10" y="402.78" text-anchor="end" font-size="4.1" font-weight="bold" fill="#000" stroke="#000" stroke-width="0.18" >1</text>
<text x="342.10" y="407.78" text-anchor="end" font-size="4.1" font-weight="bold" fill="#000" stroke="#000" stroke-width="0.18" >0</text>
<text x="342.10" y="412.98" text-anchor="end" font-size="4.1" font-weight="bold" fill="#000" stroke="#000" stroke-width="0.18" >-1</text>
<text x="342.10" y="418.38" text-anchor="end" font-size="4.1" font-weight="bold" fill="#000" stroke="#000" stroke-width="0.18" >-2</text>
<text x="347.80" y="398.95" text-anchor="start" font-size="4.3" font-weight="normal" fill="#ee2a2a" stroke="#ee2a2a" stroke-width="0.18" >'CBD' (positively correlated)</text>
<text x="428.60" y="419.65" text-anchor="end" font-size="4.3" font-weight="normal" fill="#3b82c4" stroke="#3b82c4" stroke-width="0.18" >'Model' (negatively correlated)</text>
<text x="361.27" y="428.05" text-anchor="middle" font-size="4.3" font-weight="bold" fill="#000" stroke="#000" stroke-width="0.18" >5,000</text>
<text x="378.08" y="428.05" text-anchor="middle" font-size="4.3" font-weight="bold" fill="#000" stroke="#000" stroke-width="0.18" >10,000</text>
<text x="394.89" y="428.05" text-anchor="middle" font-size="4.3" font-weight="bold" fill="#000" stroke="#000" stroke-width="0.18" >15,000</text>
<text x="411.70" y="428.05" text-anchor="middle" font-size="4.3" font-weight="bold" fill="#000" stroke="#000" stroke-width="0.18" >20,000</text>
<text x="428.51" y="428.05" text-anchor="middle" font-size="4.3" font-weight="bold" fill="#000" stroke="#000" stroke-width="0.18" >25,000</text>
<text x="391.30" y="435.25" text-anchor="middle" font-size="4.3" font-weight="bold" fill="#000" stroke="#000" stroke-width="0.18" >Rank in Ordered Dataset</text>
<text transform="translate(333.25,359.50) rotate(-90)" text-anchor="middle" font-size="4.3" font-weight="bold" fill="#000" stroke="#000" stroke-width="0.18">Enrichment Score</text>
<text transform="translate(332.15,406.00) rotate(-90)" text-anchor="middle" font-size="4.3" font-weight="bold" fill="#000" stroke="#000" stroke-width="0.18">Ranked List Metric</text>
<text x="30.10" y="29.90" text-anchor="start" font-size="9.6" font-weight="bold" fill="#000" textLength="7.00" lengthAdjust="spacingAndGlyphs" stroke="#000" stroke-width="0.18" >A</text>
<text x="70.40" y="31.50" text-anchor="start" font-size="8.65" font-weight="bold" fill="#000" textLength="72.20" lengthAdjust="spacingAndGlyphs" stroke="#000" stroke-width="0.18" >Model vs. Control</text>
<rect x="43.90" y="51.80" width="45.10" height="13.80" fill="#29b5f0" />
<rect x="35.60" y="72.30" width="53.40" height="13.70" fill="#29b5f0" />
<rect x="33.70" y="92.30" width="55.30" height="13.70" fill="#29b5f0" />
<rect x="26.10" y="112.80" width="62.90" height="13.50" fill="#29b5f0" />
<rect x="19.60" y="132.80" width="69.40" height="13.50" fill="#29b5f0" />
<text x="94.80" y="55.10" text-anchor="start" font-size="7.5" font-weight="bold" fill="#000" textLength="108.90" lengthAdjust="spacingAndGlyphs" stroke="#000" stroke-width="0.18" >Retrograde endocannabinoid</text>
<text x="94.80" y="64.10" text-anchor="start" font-size="7.5" font-weight="bold" fill="#000" textLength="34.10" lengthAdjust="spacingAndGlyphs" stroke="#000" stroke-width="0.18" >signaling</text>
<text x="95.00" y="81.50" text-anchor="start" font-size="7.5" font-weight="bold" fill="#000" textLength="56.60" lengthAdjust="spacingAndGlyphs" stroke="#000" stroke-width="0.18" >Thermogenesis</text>
<text x="96.10" y="97.40" text-anchor="start" font-size="7.5" font-weight="bold" fill="#000" textLength="93.10" lengthAdjust="spacingAndGlyphs" stroke="#000" stroke-width="0.18" >Chemical carcinogenesis</text>
<text x="96.10" y="106.60" text-anchor="start" font-size="7.5" font-weight="bold" fill="#000" textLength="89.10" lengthAdjust="spacingAndGlyphs" stroke="#000" stroke-width="0.18" >reactive oxygen species</text>
<text x="95.60" y="122.60" text-anchor="start" font-size="7.5" font-weight="bold" fill="#000" textLength="98.40" lengthAdjust="spacingAndGlyphs" stroke="#000" stroke-width="0.18" >Oxidative phosphorylation</text>
<text x="96.00" y="141.60" text-anchor="start" font-size="7.5" font-weight="bold" fill="#000" textLength="37.40" lengthAdjust="spacingAndGlyphs" stroke="#000" stroke-width="0.18" >Ribosome</text>
<line x1="6.80" y1="149.80" x2="171.70" y2="149.80" stroke="#9a9a9a" stroke-width="1.0" />
<line x1="6.80" y1="149.80" x2="6.80" y2="151.00" stroke="#9a9a9a" stroke-width="0.8" />
<line x1="48.02" y1="149.80" x2="48.02" y2="151.00" stroke="#9a9a9a" stroke-width="0.8" />
<line x1="89.24" y1="149.80" x2="89.24" y2="151.00" stroke="#9a9a9a" stroke-width="0.8" />
<line x1="130.46" y1="149.80" x2="130.46" y2="151.00" stroke="#9a9a9a" stroke-width="0.8" />
<line x1="171.68" y1="149.80" x2="171.68" y2="151.00" stroke="#9a9a9a" stroke-width="0.8" />
<text x="3.30" y="162.30" text-anchor="start" font-size="7.4" font-weight="bold" fill="#000" textLength="7.50" lengthAdjust="spacingAndGlyphs" stroke="#000" stroke-width="0.18" >−4</text>
<text x="42.80" y="162.30" text-anchor="start" font-size="7.4" font-weight="bold" fill="#000" textLength="7.90" lengthAdjust="spacingAndGlyphs" stroke="#000" stroke-width="0.18" >−2</text>
<text x="86.00" y="162.30" text-anchor="start" font-size="7.4" font-weight="bold" fill="#000" textLength="3.60" lengthAdjust="spacingAndGlyphs" stroke="#000" stroke-width="0.18" >0</text>
<text x="127.50" y="162.30" text-anchor="start" font-size="7.4" font-weight="bold" fill="#000" textLength="3.50" lengthAdjust="spacingAndGlyphs" stroke="#000" stroke-width="0.18" >2</text>
<text x="170.50" y="162.30" text-anchor="start" font-size="7.4" font-weight="bold" fill="#000" textLength="3.30" lengthAdjust="spacingAndGlyphs" stroke="#000" stroke-width="0.18" >4</text>
<text x="83.60" y="171.50" text-anchor="start" font-size="7.7" font-weight="bold" fill="#000" textLength="16.40" lengthAdjust="spacingAndGlyphs" stroke="#000" stroke-width="0.18" >NES</text>
<text x="30.50" y="231.40" text-anchor="start" font-size="9.6" font-weight="bold" fill="#000" textLength="6.40" lengthAdjust="spacingAndGlyphs" stroke="#000" stroke-width="0.18" >B</text>
<text x="77.20" y="236.10" text-anchor="start" font-size="8.7" font-weight="bold" fill="#000" textLength="60.00" lengthAdjust="spacingAndGlyphs" stroke="#000" stroke-width="0.18" >CBD vs. Model</text>
<rect x="131.70" y="246.70" width="61.40" height="21.90" fill="#f2c11d" />
<rect x="131.70" y="279.00" width="48.30" height="21.80" fill="#f2c11d" />
<rect x="131.70" y="311.20" width="38.90" height="21.90" fill="#f2c11d" />
<rect x="131.70" y="343.50" width="35.00" height="21.50" fill="#f2c11d" />
<rect x="131.70" y="375.50" width="34.40" height="21.80" fill="#f2c11d" />
<text x="125.20" y="260.40" text-anchor="end" font-size="7.35" font-weight="bold" fill="#000" textLength="34.90" lengthAdjust="spacingAndGlyphs" stroke="#000" stroke-width="0.18" >Ribosome</text>
<text x="125.20" y="291.00" text-anchor="end" font-size="7.35" font-weight="bold" fill="#000" textLength="93.00" lengthAdjust="spacingAndGlyphs" stroke="#000" stroke-width="0.18" >Oxidative phosphorylation</text>
<text x="125.40" y="320.60" text-anchor="end" font-size="7.35" font-weight="bold" fill="#000" textLength="88.80" lengthAdjust="spacingAndGlyphs" stroke="#000" stroke-width="0.18" >Chemical carcinogenesis</text>
<text x="125.40" y="329.20" text-anchor="end" font-size="7.35" font-weight="bold" fill="#000" textLength="85.10" lengthAdjust="spacingAndGlyphs" stroke="#000" stroke-width="0.18" >reactive oxygen species</text>
<text x="125.40" y="358.00" text-anchor="end" font-size="7.35" font-weight="bold" fill="#000" textLength="54.20" lengthAdjust="spacingAndGlyphs" stroke="#000" stroke-width="0.18" >Thermogenesis</text>
<text x="125.40" y="385.00" text-anchor="end" font-size="7.35" font-weight="bold" fill="#000" textLength="102.80" lengthAdjust="spacingAndGlyphs" stroke="#000" stroke-width="0.18" >Retrograde endocannabinoid</text>
<text x="125.40" y="393.60" text-anchor="end" font-size="7.35" font-weight="bold" fill="#000" textLength="32.60" lengthAdjust="spacingAndGlyphs" stroke="#000" stroke-width="0.18" >signaling</text>
<line x1="55.70" y1="402.40" x2="208.50" y2="402.40" stroke="#9a9a9a" stroke-width="1.0" />
<line x1="55.70" y1="402.40" x2="55.70" y2="403.60" stroke="#9a9a9a" stroke-width="0.8" />
<line x1="93.90" y1="402.40" x2="93.90" y2="403.60" stroke="#9a9a9a" stroke-width="0.8" />
<line x1="132.10" y1="402.40" x2="132.10" y2="403.60" stroke="#9a9a9a" stroke-width="0.8" />
<line x1="170.30" y1="402.40" x2="170.30" y2="403.60" stroke="#9a9a9a" stroke-width="0.8" />
<line x1="208.50" y1="402.40" x2="208.50" y2="403.60" stroke="#9a9a9a" stroke-width="0.8" />
<text x="50.80" y="414.40" text-anchor="start" font-size="7.4" font-weight="bold" fill="#000" textLength="6.90" lengthAdjust="spacingAndGlyphs" stroke="#000" stroke-width="0.18" >−4</text>
<text x="88.70" y="414.40" text-anchor="start" font-size="7.4" font-weight="bold" fill="#000" textLength="6.60" lengthAdjust="spacingAndGlyphs" stroke="#000" stroke-width="0.18" >−2</text>
<text x="128.70" y="414.40" text-anchor="start" font-size="7.4" font-weight="bold" fill="#000" textLength="3.30" lengthAdjust="spacingAndGlyphs" stroke="#000" stroke-width="0.18" >0</text>
<text x="167.30" y="414.40" text-anchor="start" font-size="7.4" font-weight="bold" fill="#000" textLength="3.90" lengthAdjust="spacingAndGlyphs" stroke="#000" stroke-width="0.18" >2</text>
<text x="206.50" y="414.40" text-anchor="start" font-size="7.4" font-weight="bold" fill="#000" textLength="4.00" lengthAdjust="spacingAndGlyphs" stroke="#000" stroke-width="0.18" >4</text>
<text x="123.70" y="423.60" text-anchor="start" font-size="7.6" font-weight="bold" fill="#000" textLength="14.20" lengthAdjust="spacingAndGlyphs" stroke="#000" stroke-width="0.18" >NES</text>
</svg></div>
</body></html>
